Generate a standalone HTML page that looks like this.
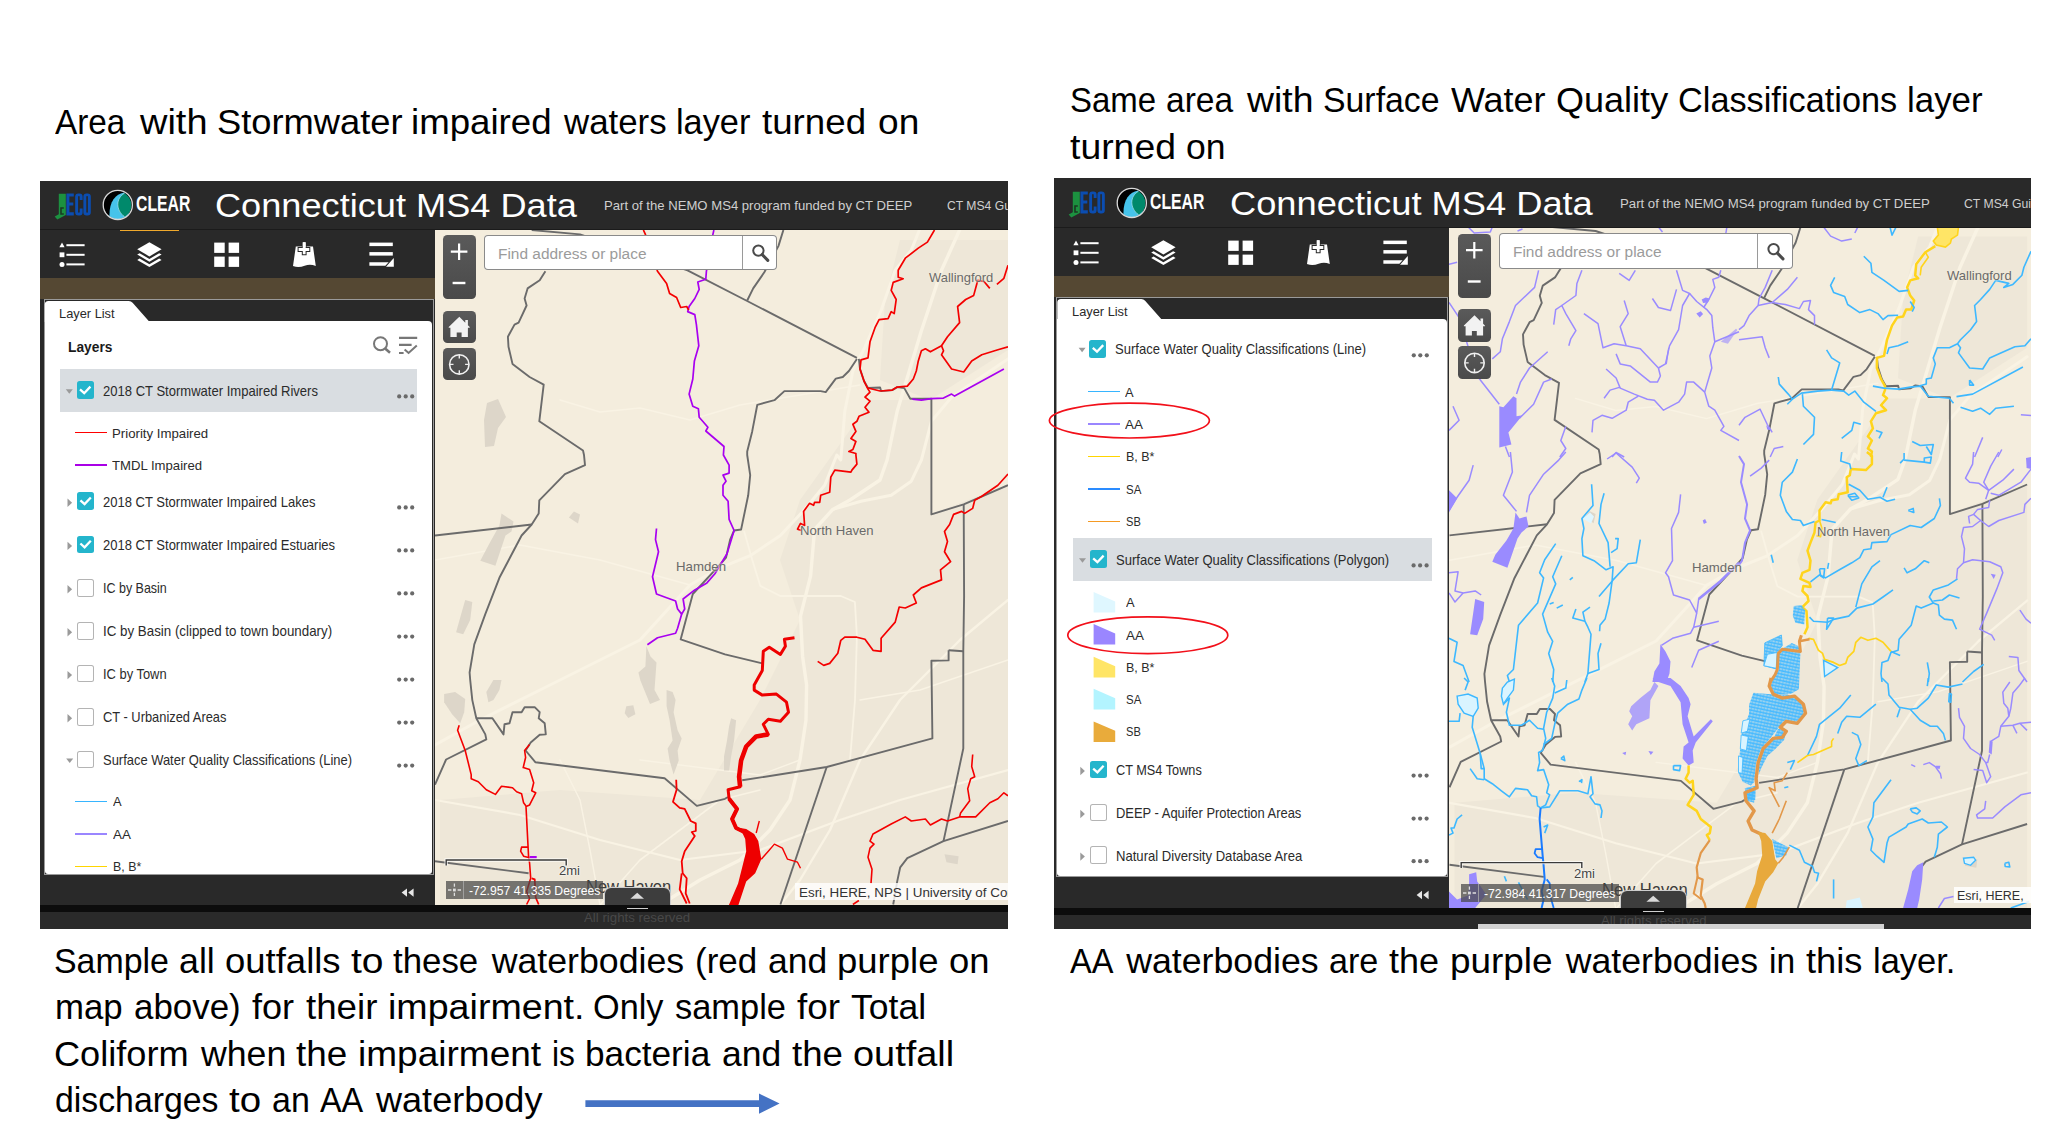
<!DOCTYPE html>
<html><head><meta charset="utf-8"><title>Connecticut MS4 Data</title>
<style>
html,body{margin:0;padding:0;background:#fff}
body{width:2048px;height:1142px;position:relative;overflow:hidden;font-family:'Liberation Sans',sans-serif}
.t{position:absolute;white-space:pre;line-height:1;transform-origin:0 50%}
.b{position:absolute}
.clip{position:absolute;overflow:hidden}
.in{position:absolute}
svg{position:absolute;left:0;top:0;overflow:visible}
</style></head><body>
<div class="t" style="left:54.7px;top:105.0px;font-size:35.7px;color:#000;transform:scaleX(0.9333);">Area</div><div class="t" style="left:139.6px;top:105.0px;font-size:35.7px;color:#000;transform:scaleX(1.0636);">with</div><div class="t" style="left:216.6px;top:105.0px;font-size:35.7px;color:#000;transform:scaleX(1.0173);">Stormwater</div><div class="t" style="left:411.4px;top:105.0px;font-size:35.7px;color:#000;transform:scaleX(1.0270);">impaired</div><div class="t" style="left:563.5px;top:105.0px;font-size:35.7px;color:#000;transform:scaleX(0.9766);">waters</div><div class="t" style="left:676.3px;top:105.0px;font-size:35.7px;color:#000;transform:scaleX(0.9607);">layer</div><div class="t" style="left:762.3px;top:105.0px;font-size:35.7px;color:#000;transform:scaleX(1.0288);">turned</div><div class="t" style="left:877.8px;top:105.0px;font-size:35.7px;color:#000;transform:scaleX(1.0394);">on</div><div class="t" style="left:1069.6px;top:83.0px;font-size:35.7px;color:#000;transform:scaleX(0.9236);">Same</div><div class="t" style="left:1165.7px;top:83.0px;font-size:35.7px;color:#000;transform:scaleX(0.9408);">area</div><div class="t" style="left:1247.3px;top:83.0px;font-size:35.7px;color:#000;transform:scaleX(1.0493);">with</div><div class="t" style="left:1322.8px;top:83.0px;font-size:35.7px;color:#000;transform:scaleX(0.9477);">Surface</div><div class="t" style="left:1450.6px;top:83.0px;font-size:35.7px;color:#000;transform:scaleX(1.0078);">Water</div><div class="t" style="left:1556.0px;top:83.0px;font-size:35.7px;color:#000;transform:scaleX(1.0097);">Quality</div><div class="t" style="left:1678.3px;top:83.0px;font-size:35.7px;color:#000;transform:scaleX(0.9609);">Classifications</div><div class="t" style="left:1907.0px;top:83.0px;font-size:35.7px;color:#000;transform:scaleX(0.9779);">layer</div><div class="t" style="left:1069.8px;top:130.0px;font-size:35.7px;color:#000;transform:scaleX(1.0469);">turned</div><div class="t" style="left:1186.4px;top:130.0px;font-size:35.7px;color:#000;transform:scaleX(0.9960);">on</div><div class="t" style="left:54.2px;top:944.0px;font-size:35.7px;color:#000;transform:scaleX(0.9500);">Sample</div><div class="t" style="left:179.1px;top:944.0px;font-size:35.7px;color:#000;">all</div><div class="t" style="left:224.8px;top:944.0px;font-size:35.7px;color:#000;transform:scaleX(1.0222);">outfalls</div><div class="t" style="left:351.2px;top:944.0px;font-size:35.7px;color:#000;transform:scaleX(1.0929);">to</div><div class="t" style="left:393.4px;top:944.0px;font-size:35.7px;color:#000;transform:scaleX(0.9751);">these</div><div class="t" style="left:491.7px;top:944.0px;font-size:35.7px;color:#000;">waterbodies</div><div class="t" style="left:695.1px;top:944.0px;font-size:35.7px;color:#000;transform:scaleX(0.9796);">(red</div><div class="t" style="left:767.9px;top:944.0px;font-size:35.7px;color:#000;transform:scaleX(0.9948);">and</div><div class="t" style="left:836.5px;top:944.0px;font-size:35.7px;color:#000;transform:scaleX(1.0223);">purple</div><div class="t" style="left:948.7px;top:944.0px;font-size:35.7px;color:#000;transform:scaleX(1.0204);">on</div><div class="t" style="left:54.7px;top:990.0px;font-size:35.7px;color:#000;transform:scaleX(0.9748);">map</div><div class="t" style="left:133.8px;top:990.0px;font-size:35.7px;color:#000;transform:scaleX(0.9780);">above)</div><div class="t" style="left:251.6px;top:990.0px;font-size:35.7px;color:#000;transform:scaleX(1.0105);">for</div><div class="t" style="left:305.5px;top:990.0px;font-size:35.7px;color:#000;transform:scaleX(1.0282);">their</div><div class="t" style="left:387.7px;top:990.0px;font-size:35.7px;color:#000;transform:scaleX(1.0540);">impairment.</div><div class="t" style="left:592.7px;top:990.0px;font-size:35.7px;color:#000;transform:scaleX(0.9595);">Only</div><div class="t" style="left:674.5px;top:990.0px;font-size:35.7px;color:#000;transform:scaleX(0.9647);">sample</div><div class="t" style="left:797.4px;top:990.0px;font-size:35.7px;color:#000;transform:scaleX(1.0320);">for</div><div class="t" style="left:851.2px;top:990.0px;font-size:35.7px;color:#000;transform:scaleX(0.9952);">Total</div><div class="t" style="left:54.2px;top:1037.0px;font-size:35.7px;color:#000;transform:scaleX(1.0136);">Coliform</div><div class="t" style="left:201.0px;top:1037.0px;font-size:35.7px;color:#000;">when</div><div class="t" style="left:296.1px;top:1037.0px;font-size:35.7px;color:#000;transform:scaleX(1.0336);">the</div><div class="t" style="left:357.7px;top:1037.0px;font-size:35.7px;color:#000;transform:scaleX(1.0373);">impairment</div><div class="t" style="left:552.3px;top:1037.0px;font-size:35.7px;color:#000;transform:scaleX(0.8897);">is</div><div class="t" style="left:585.1px;top:1037.0px;font-size:35.7px;color:#000;transform:scaleX(0.9863);">bacteria</div><div class="t" style="left:722.2px;top:1037.0px;font-size:35.7px;color:#000;transform:scaleX(0.9948);">and</div><div class="t" style="left:791.8px;top:1037.0px;font-size:35.7px;color:#000;transform:scaleX(1.0254);">the</div><div class="t" style="left:852.6px;top:1037.0px;font-size:35.7px;color:#000;transform:scaleX(1.0628);">outfall</div><div class="t" style="left:55.0px;top:1083.0px;font-size:35.7px;color:#000;transform:scaleX(0.9471);">discharges</div><div class="t" style="left:229.3px;top:1083.0px;font-size:35.7px;color:#000;transform:scaleX(1.0790);">to</div><div class="t" style="left:271.7px;top:1083.0px;font-size:35.7px;color:#000;transform:scaleX(0.9526);">an</div><div class="t" style="left:319.5px;top:1083.0px;font-size:35.7px;color:#000;transform:scaleX(0.9079);">AA</div><div class="t" style="left:375.6px;top:1083.0px;font-size:35.7px;color:#000;transform:scaleX(1.0108);">waterbody</div><div class="t" style="left:1069.8px;top:944.0px;font-size:35.7px;color:#000;transform:scaleX(0.9121);">AA</div><div class="t" style="left:1126.2px;top:944.0px;font-size:35.7px;color:#000;">waterbodies</div><div class="t" style="left:1329.0px;top:944.0px;font-size:35.7px;color:#000;transform:scaleX(0.9571);">are</div><div class="t" style="left:1389.3px;top:944.0px;font-size:35.7px;color:#000;transform:scaleX(1.0090);">the</div><div class="t" style="left:1450.1px;top:944.0px;font-size:35.7px;color:#000;transform:scaleX(1.0337);">purple</div><div class="t" style="left:1565.7px;top:944.0px;font-size:35.7px;color:#000;">waterbodies</div><div class="t" style="left:1768.8px;top:944.0px;font-size:35.7px;color:#000;transform:scaleX(0.9403);">in</div><div class="t" style="left:1806.2px;top:944.0px;font-size:35.7px;color:#000;transform:scaleX(1.0166);">this</div><div class="t" style="left:1872.9px;top:944.0px;font-size:35.7px;color:#000;transform:scaleX(0.9654);">layer.</div><svg width="2048" height="1142"><path d="M585.4 1100.2H759V1093.4l20.6 10.2-20.6 10.2v-6.8H585.4z" fill="#4472c4"/></svg>
<div class="clip" style="left:40px;top:181px;width:968px;height:747.5px;background:#292929"><div class="in" style="left:-40px;top:-181px;width:2048px;height:1142px"><div class="b" style="left:435.0px;top:229.6px;width:2048.0px;height:675.4px;background:#f4eddd;"></div><div class="clip" style="left:435px;top:229.6px;width:573px;height:675.4px"><svg width="2048" height="1142" style="left:-435px;top:-229.6px"><path d="M870.0 400.0 931.0 400.0 931.0 514.0 1008.0 485.0 1008.0 905.0 440.0 905.0 440.0 800.0 560.0 790.0 700.0 800.0 760.0 700.0 800.0 620.0 780.0 560.0 800.0 500.0 850.0 430.0z" fill="#eee7d8" /><path d="M900.0 240.0 1008.0 240.0 1008.0 350.0 930.0 400.0 880.0 380.0 885.0 300.0z" fill="#eee7d8" /><path d="M919.4 230.0 911.3 250.1 895.2 270.3 881.1 310.5 865.0 346.8 852.9 371.0 844.8 411.2 840.8 460.0 836.8 455.0 824.7 485.2 804.6 509.4 780.4 535.5 750.2 555.7 720.0 567.8 690.0 585.0 640.0 640.0 600.0 660.0 540.0 690.0 480.0 720.0 435.0 745.0" fill="none" stroke="#f9f3e4" stroke-width="3" stroke-linejoin="round" stroke-linecap="round"/><path d="M959.6 230.0 941.5 270.3 921.4 330.7 909.3 371.0 897.2 411.2 887.1 460.0 880.0 480.0 850.0 500.0 832.8 509.4 814.6 529.5 810.6 575.8 800.5 616.1 802.6 656.4 806.6 685.0 806.0 720.0 800.0 760.0 790.0 800.0 770.0 830.0 740.0 860.0 700.0 880.0 660.0 905.0" fill="none" stroke="#f9f3e4" stroke-width="3.4" stroke-linejoin="round" stroke-linecap="round"/><path d="M1008.0 358.9 951.6 397.1 931.4 421.3 921.4 460.0 911.3 481.2 891.2 495.3 861.0 501.3 832.8 509.4" fill="none" stroke="#f9f3e4" stroke-width="3" stroke-linejoin="round" stroke-linecap="round"/><path d="M744.2 531.5 752.2 559.7 760.3 585.9 780.4 596.0 840.8 596.0 854.9 602.0 856.9 636.2 855.0 700.0 850.0 760.0" fill="none" stroke="#f9f3e4" stroke-width="1.8" stroke-linejoin="round" stroke-linecap="round"/><path d="M435.0 560.0 520.0 545.0 600.0 560.0 690.0 585.0" fill="none" stroke="#f9f3e4" stroke-width="1.6" stroke-linejoin="round" stroke-linecap="round"/><path d="M560.0 400.0 600.0 412.0 640.0 408.0 690.0 420.0 740.0 405.0 800.0 395.0 860.0 385.0" fill="none" stroke="#f9f3e4" stroke-width="1.4" stroke-linejoin="round" stroke-linecap="round"/><path d="M1008.0 600.0 960.0 640.0 900.0 700.0 860.0 760.0 830.0 830.0 800.0 880.0 780.0 905.0" fill="none" stroke="#f9f3e4" stroke-width="2.4" stroke-linejoin="round" stroke-linecap="round"/><path d="M435.0 800.0 520.0 815.0 600.0 840.0 680.0 860.0 760.0 850.0 840.0 820.0 900.0 800.0 1008.0 770.0" fill="none" stroke="#f9f3e4" stroke-width="2.2" stroke-linejoin="round" stroke-linecap="round"/><path d="M600.0 905.0 640.0 860.0 680.0 830.0 720.0 800.0 760.0 790.0" fill="none" stroke="#f9f3e4" stroke-width="1.6" stroke-linejoin="round" stroke-linecap="round"/><path d="M560.0 760.0 580.0 800.0 590.0 850.0 600.0 905.0" fill="none" stroke="#f9f3e4" stroke-width="1.4" stroke-linejoin="round" stroke-linecap="round"/><path d="M640.0 760.0 760.0 775.0 800.0 760.0" fill="none" stroke="#f9f3e4" stroke-width="1.4" stroke-linejoin="round" stroke-linecap="round"/><path d="M860.0 700.0 920.0 690.0 1008.0 660.0" fill="none" stroke="#f9f3e4" stroke-width="1.4" stroke-linejoin="round" stroke-linecap="round"/><path d="M501.5 513.4 513.5 521.5 511.5 531.5 505.5 535.5 495.4 565.8 480.3 560.7 489.4 543.6 499.4 525.5z" fill="#ddd6c9" /><path d="M568.9 517.4 573.9 511.4 580.0 514.4 578.0 523.5z" fill="#ddd6c9" /><path d="M465.2 600.0 472.3 602.0 470.2 620.1 463.2 634.2 456.1 632.2 461.2 614.1z" fill="#ddd6c9" /><path d="M646.4 646.3 650.5 656.4 656.5 662.4 654.5 690.0 660.0 700.0 650.0 704.0 640.4 680.6 638.4 672.5 645.4 666.4z" fill="#ddd6c9" /><path d="M444.1 694.1 455.1 692.1 465.2 699.1 464.2 712.2 460.2 723.3 452.1 714.2 444.1 702.2z" fill="#ddd6c9" /><path d="M488.4 702.2 486.3 692.1 493.4 680.0 501.5 680.0 499.4 690.1 493.4 700.1z" fill="#ddd6c9" /><path d="M626.3 706.2 633.3 705.2 635.4 714.2 628.3 717.9 624.7 713.2z" fill="#ddd6c9" /><path d="M666.6 690.1 672.6 692.1 675.6 700.1 673.6 712.2 677.6 730.3 681.7 738.4 677.6 750.5 678.7 760.5 673.6 774.6 669.6 760.5 667.6 748.5 672.6 740.4 669.6 720.3 666.6 706.2z" fill="#ddd6c9" /><path d="M731.1 718.3 736.1 720.3 734.1 740.4 731.1 756.5 729.1 770.6 724.0 770.6 724.0 756.5 727.0 740.4 729.1 726.3z" fill="#ddd6c9" /><path d="M944.5 854.2 958.6 856.2 957.6 864.2 946.5 862.2z" fill="#ddd6c9" /><path d="M487.0 403.0 498.0 399.0 506.0 417.0 498.0 428.0 494.0 446.0 485.0 447.0 484.0 420.0z" fill="#ddd6c9" /><path d="M545.4 271.3 539.7 280.3 527.6 288.4 524.6 298.5 526.6 305.5 518.6 322.6 514.5 324.6 507.9 336.7 508.5 346.8 512.5 363.9 529.6 377.0 543.7 384.6 539.3 421.3 583.0 450.5 584.0 455.0 585.0 465.1 564.9 474.1 539.3 500.3 538.7 513.4 531.7 524.5 521.6 535.5 499.4 577.8 485.3 614.1 474.3 644.3 469.6 672.5 470.2 680.0 472.3 700.1 476.3 718.3 485.3 734.4 486.3 739.4 446.1 759.5 435.0 784.7" fill="none" stroke="#6b6b6b" stroke-width="1.9" stroke-linejoin="round" /><path d="M435.0 535.5 531.7 524.5" fill="none" stroke="#6b6b6b" stroke-width="1.9" stroke-linejoin="round" /><path d="M531.7 230.0 580.0 234.4 687.5 270.3 746.2 300.5 856.9 357.9" fill="none" stroke="#6b6b6b" stroke-width="1.9" stroke-linejoin="round" /><path d="M783.4 230.0 778.4 246.1 764.3 272.3 753.2 288.4 747.2 300.5" fill="none" stroke="#6b6b6b" stroke-width="1.9" stroke-linejoin="round" /><path d="M856.9 358.9 848.9 371.0 842.8 377.0 835.8 378.6 825.7 392.1 820.7 391.1 784.4 391.1 774.4 400.2 757.3 404.8 752.2 431.4 747.2 451.5 747.2 455.0 750.2 475.1 748.2 495.3 741.1 529.5 734.1 530.5 730.1 539.6 726.0 557.7 720.0 564.7 692.8 594.0 680.7 639.3 725.0 654.4 762.3 663.4" fill="none" stroke="#6b6b6b" stroke-width="1.9" stroke-linejoin="round" /><path d="M858.9 358.9 860.0 369.0 864.0 381.0 868.0 388.0 880.1 387.5 881.1 391.1 892.2 390.1 897.2 387.1 904.3 388.1 910.3 398.7 931.4 398.7 931.4 514.4 963.7 504.3 1008.0 485.2" fill="none" stroke="#6b6b6b" stroke-width="1.9" stroke-linejoin="round" /><path d="M963.7 504.3 964.1 596.0 963.3 651.3 963.3 748.5 943.5 841.1" fill="none" stroke="#6b6b6b" stroke-width="1.9" stroke-linejoin="round" /><path d="M948.6 650.3 963.3 651.3" fill="none" stroke="#6b6b6b" stroke-width="1.9" stroke-linejoin="round" /><path d="M948.6 650.3 948.6 660.4 931.4 660.8 932.4 738.4 826.7 767.0 742.2 780.3" fill="none" stroke="#6b6b6b" stroke-width="1.9" stroke-linejoin="round" /><path d="M826.7 767.0 780.4 904.5" fill="none" stroke="#6b6b6b" stroke-width="1.9" stroke-linejoin="round" /><path d="M476.3 718.3 492.4 718.3 503.5 734.4 504.5 724.3 509.5 723.3 512.5 712.2 521.6 712.2 524.6 707.2 534.7 707.2 539.7 712.2 538.7 718.3 544.7 723.3 545.8 734.4 539.7 734.8 530.7 742.4 525.6 750.5 535.3 762.2 664.6 778.3 696.8 805.9 725.0 798.8 728.0 797.0" fill="none" stroke="#6b6b6b" stroke-width="1.9" stroke-linejoin="round" /><path d="M435.0 861.2 528.6 873.3" fill="none" stroke="#6b6b6b" stroke-width="1.9" stroke-linejoin="round" /><path d="M1008.0 821.0 943.5 841.1 907.3 858.2 900.2 867.3 897.2 881.4 893.2 904.5" fill="none" stroke="#6b6b6b" stroke-width="1.9" stroke-linejoin="round" /><path d="M713.9 230.0 712.9 234.4 706.4 271.3 705.8 279.3 697.8 282.0 699.2 289.4 694.8 298.5 689.1 306.5 687.7 311.6 694.8 314.6 696.4 324.6 698.8 345.8 694.4 360.9 692.8 379.0 689.1 394.1 692.8 406.2 698.4 408.8 699.2 417.3 707.9 427.3 705.8 431.0 724.0 446.5 723.4 455.0 729.1 465.1 729.1 473.1 723.0 475.1 726.0 481.2 723.0 485.2 723.0 495.3 728.1 501.3 729.1 519.4 734.1 530.5 727.0 553.7 714.9 573.8 706.9 582.9 694.8 589.9 683.1 599.0 684.7 609.0 681.7 614.1 677.6 609.0 675.6 601.0 664.6 597.0 656.5 594.0 652.5 576.8 658.5 551.7 655.5 539.6 656.5 528.5" fill="none" stroke="#a800f0" stroke-width="1.7" stroke-linejoin="round" /><path d="M681.7 614.1 677.6 628.2 675.6 633.2 657.5 637.8 647.4 644.7" fill="none" stroke="#a800f0" stroke-width="1.7" stroke-linejoin="round" /><path d="M1003.9 368.9 954.6 396.1 951.6 394.1 943.5 398.1 931.4 398.7 921.4 400.2 912.3 399.1" fill="none" stroke="#a800f0" stroke-width="1.7" stroke-linejoin="round" /><path d="M529.6 857.2 536.7 857.2" fill="none" stroke="#a800f0" stroke-width="2.4" stroke-linejoin="round" /><path d="M643.4 230.0 645.4 234.4 657.5 271.3 666.6 283.4 669.6 293.4 676.6 297.5 680.7 307.5 686.7 306.5 688.7 310.1" fill="none" stroke="#f40000" stroke-width="1.7" stroke-linejoin="round" /><path d="M934.5 230.0 927.4 242.1 918.3 248.1 905.3 258.2 898.2 270.3 898.2 277.3 903.2 278.7 893.2 282.4 891.2 290.4 896.2 299.5 894.2 313.6 891.2 311.6 888.1 318.6 879.1 319.6 875.0 327.7 870.0 341.8 868.0 357.9 861.0 359.9 860.0 369.0 864.0 381.0 868.0 389.1 870.0 392.1 865.0 397.1 870.0 401.2 865.0 407.2 869.0 412.2 859.0 416.3 856.9 421.3 852.9 424.3 855.9 431.4 850.9 438.4 855.9 441.4 852.9 449.5 848.9 451.5 855.9 453.5 855.9 455.0 856.9 464.1 851.9 470.1 850.9 472.1 834.8 470.1 830.8 477.2 829.7 492.3 820.7 495.3 819.7 502.3 814.6 502.3 813.6 505.3 809.6 503.3 803.6 511.4 804.6 525.5 800.5 523.5 797.5 529.1 801.6 530.5" fill="none" stroke="#f40000" stroke-width="1.7" stroke-linejoin="round" /><path d="M868.0 388.0 880.1 391.0 892.2 390.1 897.2 387.1 907.3 386.1 913.3 379.0 916.3 371.0 918.3 360.9 921.4 350.8 925.4 348.8 930.4 351.8 941.5 345.8 947.5 336.7 959.6 322.6 957.6 306.5 965.7 299.5 973.7 295.4 977.8 280.3 983.8 281.3 989.8 288.4" fill="none" stroke="#f40000" stroke-width="1.7" stroke-linejoin="round" /><path d="M941.5 345.8 943.5 350.8 941.5 354.8 951.6 369.0 963.7 372.0 971.7 360.9 981.8 354.8 997.9 349.8 1008.0 346.8" fill="none" stroke="#f40000" stroke-width="1.7" stroke-linejoin="round" /><path d="M996.9 284.4 1003.9 278.3 1008.0 265.2" fill="none" stroke="#f40000" stroke-width="1.7" stroke-linejoin="round" /><path d="M1008.0 474.1 997.9 485.2 981.8 496.3 974.7 500.3 972.7 508.4 964.7 513.4 961.6 511.4 953.6 514.4 949.6 524.5 944.5 531.5 947.5 541.6 944.5 551.7 950.6 561.7 940.5 569.8 941.5 579.9 921.4 587.9 913.3 595.0 916.3 603.0 905.3 608.0 899.2 607.0 895.2 622.1 881.1 638.2 881.1 651.3 873.0 650.3 865.0 639.3 856.9 637.2 844.8 637.2 840.8 640.3 837.8 653.3 829.7 663.4 823.7 665.4 817.7 661.4" fill="none" stroke="#f40000" stroke-width="1.7" stroke-linejoin="round" /><path d="M794.5 637.8 784.4 639.3 785.4 646.3 780.4 654.4 769.3 647.3 763.3 651.3 762.3 670.5 754.2 685.0 754.2 690.1 762.3 695.1 776.4 694.1 786.5 702.2 788.5 712.2 780.4 721.3 768.3 719.3 763.3 724.3 768.3 734.4 756.2 736.4 746.2 746.5 741.1 760.5 739.1 776.7 740.1 786.7 728.1 789.7 729.1 798.8 737.1 808.9 732.1 819.0 736.1 828.0 744.2 832.0" fill="none" stroke="#ee0000" stroke-width="3" stroke-linejoin="round" /><path d="M768.3 734.4 756.2 736.4 746.2 746.5 741.1 760.5 739.1 776.7 740.1 786.7" fill="none" stroke="#ee0000" stroke-width="4.6" stroke-linejoin="round" /><path d="M729.1 798.8 737.1 808.9 732.1 819.0 736.1 828.0 744.2 832.0" fill="none" stroke="#ee0000" stroke-width="4" stroke-linejoin="round" /><path d="M740.1 828.0 746.2 829.0 754.2 834.0 758.3 841.1 761.3 859.2 755.2 873.3 746.2 881.4 738.1 906.0 728.5 906.0 738.1 883.4 742.2 867.3 746.2 851.2 745.2 839.1z" fill="#ee0000" /><path d="M759.3 821.0 756.2 833.0" fill="none" stroke="#f40000" stroke-width="1.4" stroke-linejoin="round" /><path d="M761.3 859.2 768.3 851.2 774.4 844.1 782.4 848.1 787.5 859.2 797.5 862.2 800.5 868.3" fill="none" stroke="#f40000" stroke-width="1.4" stroke-linejoin="round" /><path d="M1008.0 795.8 1003.9 792.8 997.9 798.8 989.8 802.8 975.7 816.9 959.6 816.9 947.5 821.0 941.5 819.0 930.4 825.0 925.4 819.0 911.3 821.0 905.3 816.9 891.2 824.0 873.0 834.0 870.0 841.1 874.0 844.1 870.0 848.1 868.0 857.2 872.0 869.3 871.0 883.4" fill="none" stroke="#f40000" stroke-width="1.6" stroke-linejoin="round" /><path d="M972.7 754.5 971.7 766.6 974.7 776.7 970.7 778.7 967.7 788.7 969.7 800.8 960.6 812.9 959.6 816.9" fill="none" stroke="#f40000" stroke-width="1.6" stroke-linejoin="round" /><path d="M858.9 900.5 852.9 904.5" fill="none" stroke="#f40000" stroke-width="1.6" stroke-linejoin="round" /><path d="M459.2 725.3 457.6 730.3 465.2 750.5 471.2 774.6 471.2 778.7 478.3 781.7 486.3 789.7 495.4 794.4 501.5 786.3 512.5 787.7 516.6 791.8 521.6 793.8 523.6 802.8 526.0 805.9" fill="none" stroke="#f40000" stroke-width="1.6" stroke-linejoin="round" /><path d="M529.6 744.4 524.6 750.5 525.6 757.5 523.2 767.6 529.6 769.6 533.7 782.7 531.7 790.8 535.7 792.8 529.6 804.9 526.0 806.5 528.6 857.2 529.6 863.2 530.7 878.3 526.6 891.4 529.6 898.5 526.6 904.5" fill="none" stroke="#f40000" stroke-width="1.6" stroke-linejoin="round" /><path d="M528.0 847.1 521.6 847.1 520.6 851.2 523.6 856.2 528.6 857.6" fill="none" stroke="#f40000" stroke-width="1.6" stroke-linejoin="round" /><path d="M531.7 878.3 534.7 879.4 535.7 897.5 538.7 904.5" fill="none" stroke="#f40000" stroke-width="1.8" stroke-linejoin="round" /><path d="M676.2 779.7 676.6 789.7 673.0 801.8 679.7 807.9 684.7 808.9 690.7 821.0 695.8 823.4 695.8 831.0 691.7 832.0 694.8 836.1 684.7 851.2 681.7 861.2 682.7 873.3 686.7 878.3 685.7 893.4 689.7 903.5" fill="none" stroke="#f40000" stroke-width="1.8" stroke-linejoin="round" /><path d="M681.7 873.3 679.7 889.4 686.7 903.5" fill="none" stroke="#f40000" stroke-width="1.8" stroke-linejoin="round" /></svg></div><div class="t" style="left:929.3px;top:271.0px;font-size:13.4px;color:#6a6a6a;transform:scaleX(0.9672);text-shadow:0 0 2px #f4eddd,0 0 2px #f4eddd">Wallingford</div><div class="t" style="left:800.0px;top:524.0px;font-size:13.4px;color:#6a6a6a;transform:scaleX(0.9791);text-shadow:0 0 2px #f4eddd,0 0 2px #f4eddd">North Haven</div><div class="t" style="left:676.3px;top:560.0px;font-size:13.4px;color:#6a6a6a;transform:scaleX(0.9879);text-shadow:0 0 2px #f4eddd,0 0 2px #f4eddd">Hamden</div><div class="b" style="left:40.0px;top:178.0px;width:2048.0px;height:51.6px;background:#292929;"></div><div class="b" style="left:40.0px;top:229.0px;width:2048.0px;height:1.2px;background:#1b1b1b;"></div><svg width="2048" height="1142"><g transform="translate(0,0)"><path d="M58.8 193.8h7v21.2l-8.5 4.4-2.6-2.9 4.1-2.3z" fill="#1c9140"/><path d="M60.2 207.2h3.6v1.6h-2v4.4h2v1.6h-3.6z" fill="#1a3a22"/><path d="M66.4 193.4h7.4v3.1h-4.4v6h3.9v3h-3.9v6.8h4.4v3.1h-7.4z" fill="#0b4db1"/><path d="M75.2 196.6a3.2 3.2 0 0 1 3.2-3.2h1a3.2 3.2 0 0 1 3.2 3.2v3.4h-2.9v-3.2a.8.8 0 0 0-1.6 0v15.2a.8.8 0 0 0 1.6 0v-3.6h2.9v3.8a3.2 3.2 0 0 1-3.2 3.2h-1a3.2 3.2 0 0 1-3.2-3.2z" fill="#0b4db1"/><path fill-rule="evenodd" d="M83.4 196.6a3.2 3.2 0 0 1 3.2-3.2h1a3.2 3.2 0 0 1 3.2 3.2v15.6a3.2 3.2 0 0 1-3.2 3.2h-1a3.2 3.2 0 0 1-3.2-3.2zM86.3 196.8v15.2a.8.8 0 0 0 1.6 0v-15.2a.8.8 0 0 0-1.6 0z" fill="#0b4db1"/><circle cx="117.8" cy="204.9" r="14.2" fill="#000"/><clipPath id="ccL"><circle cx="117.8" cy="204.9" r="14.2"/></clipPath><g clip-path="url(#ccL)"><path d="M124 192.5c-9 2-15.5 9-14.5 27l16 2 4-10z" fill="#46c3ea"/><path d="M124.6 193.2c-9 5-9 17 0 23.6 9-5 9-18 0-23.6z" fill="#00896b"/><path d="M124.6 193.2c-9 5-9 17 0 23.6" fill="none" stroke="#bfe9f5" stroke-width=".6"/></g><circle cx="117.8" cy="204.9" r="14.6" fill="none" stroke="#d8d8d8" stroke-width="1.3"/><path d="M62 242.6l2.6 4.6h-5.2z" fill="#fff"/><rect x="59.6" y="252.4" width="4.8" height="4.8" fill="#fff"/><circle cx="62" cy="264.4" r="2.5" fill="#fff"/><rect x="66.4" y="244.2" width="18.2" height="2" fill="#fff"/><rect x="66.4" y="253.8" width="18.2" height="2" fill="#fff"/><rect x="66.4" y="263.4" width="18.2" height="2" fill="#fff"/><path d="M149.4 242.2l12.2 7.1-12.2 7.1-12.2-7.1z" fill="#fff"/><path d="M139.6 253.2l9.8 5.7 9.8-5.7 2.4 1.4-12.2 7.2-12.2-7.2z" fill="#fff"/><path d="M139.6 258.5l9.8 5.7 9.8-5.7 2.4 1.4-12.2 7.2-12.2-7.2z" fill="#fff"/><rect x="214.2" y="242.6" width="10.5" height="10.3" fill="#fff"/><rect x="214.2" y="256.6" width="10.5" height="10.3" fill="#fff"/><rect x="228.6" y="242.6" width="10.5" height="10.3" fill="#fff"/><rect x="228.6" y="256.6" width="10.5" height="10.3" fill="#fff"/><path d="M295.8 246.6h17.2l2.8 19.4c-4-1.6-7.4-1.6-11.2-.2s-7.6 1.8-11.6.2z" fill="#fff"/><path d="M302.8 242.3h2.8v5.8h3.7v2.9h-3.7v3.2h-2.8v-3.2h-4.2v-2.9h4.2z" fill="#fff" stroke="#292929" stroke-width="2" paint-order="stroke"/><rect x="302.8" y="242.3" width="2.8" height="5" fill="#fff"/><rect x="369.4" y="242.6" width="23.4" height="3.5" fill="#fff"/><rect x="369.4" y="252.1" width="23.4" height="3.5" fill="#fff"/><path d="M369.4 262.3h19.2l-3.2 3.5h-16z" fill="#fff"/><path d="M393.8 257.9v8.8h-7.8z" fill="#fff"/></g></svg><div class="t" style="left:136.4px;top:193.0px;font-size:21.8px;color:#fff;font-weight:700;transform:scaleX(0.7233);">CLEAR</div><div class="t" style="left:215.0px;top:189.0px;font-size:33.6px;color:#fff;transform:scaleX(1.0770);">Connecticut MS4 Data</div><div class="t" style="left:603.5px;top:199.0px;font-size:13.6px;color:#cfcfcf;transform:scaleX(0.9653);">Part of the NEMO MS4 program funded by CT DEEP</div><div class="t" style="left:947.0px;top:199.0px;font-size:13.6px;color:#cfcfcf;transform:scaleX(0.8943);">CT MS4 Guidance</div><div class="b" style="left:120.0px;top:229.8px;width:58.7px;height:1.6px;background:#f0a92c;"></div><div class="b" style="left:40.0px;top:277.7px;width:395.0px;height:21.3px;background:#554833;"></div><div class="b" style="left:43.5px;top:298.8px;width:390.0px;height:576.4px;background:#292929;box-shadow:0 0 0 1px #9a9a9a inset"></div><div class="b" style="left:44.8px;top:321.0px;width:387.6px;height:553.0px;background:#fff;border-radius:0 4px 3px 3px"></div><svg width="2048" height="1142"><g transform="translate(0,0)"><path d="M44.8 322v-17.4a3.6 3.6 0 0 1 3.6-3.6h80.4a5 5 0 0 1 3.8 1.8l17 19.2z" fill="#fff"/></g></svg><div class="t" style="left:58.5px;top:308.0px;font-size:12.6px;color:#292929;transform:scaleX(1.0183);">Layer List</div><svg width="2048" height="1142"><g transform="translate(0,0)"><path d="M401.6 892.6l5.4-4.2v8.4zM408.2 892.6l5.4-4.2v8.4z" fill="#e6e6e6"/></g></svg><div class="t" style="left:68.3px;top:339.0px;font-size:15.2px;color:#1a1a1a;font-weight:700;transform:scaleX(0.9066);">Layers</div><svg width="2048" height="1142"><circle cx="380.5" cy="343.7" r="6.5" fill="none" stroke="#777" stroke-width="2"/><path d="M385.4 348.8l4.6 3.9" stroke="#777" stroke-width="2.6"/><path d="M399 337.9h18.2M399 344.8h12.6M399 353h4.6" fill="none" stroke="#777" stroke-width="2.2"/><path d="M404.6 349.4l4 3.6 8.2-7.6" fill="none" stroke="#777" stroke-width="2"/></svg><div class="b" style="left:60.0px;top:369.2px;width:357.4px;height:42.4px;background:#d9dde1;"></div><svg width="2048" height="1142"><path d="M65.8 389.2h7l-3.5 4.6z" fill="#9a9a9a"/></svg><div class="b" style="left:76.6px;top:381.4px;width:17.0px;height:17.8px;background:#24b5cc;border-radius:2.5px"></div><svg width="2048" height="1142"><path d="M80.0 389.40000000000003l4.2 3.8 6.2-6.6" fill="none" stroke="#fff" stroke-width="2.3"/></svg><div class="t" style="left:102.6px;top:385.0px;font-size:13.9px;color:#2b2b2b;transform:scaleX(0.9386);">2018 CT Stormwater Impaired Rivers</div><svg width="2048" height="1142"><circle cx="399.2" cy="396.4" r="2.1" fill="#6a6a6a"/><circle cx="405.7" cy="396.4" r="2.1" fill="#6a6a6a"/><circle cx="412.2" cy="396.4" r="2.1" fill="#6a6a6a"/></svg><div class="b" style="left:74.8px;top:431.9px;width:32.5px;height:1.6px;background:#ff0000;"></div><div class="t" style="left:112.4px;top:427.0px;font-size:13.6px;color:#2b2b2b;transform:scaleX(0.9721);">Priority Impaired</div><div class="b" style="left:74.8px;top:464.2px;width:32.5px;height:1.6px;background:#a900e6;"></div><div class="t" style="left:112.4px;top:459.0px;font-size:13.6px;color:#2b2b2b;transform:scaleX(0.9672);">TMDL Impaired</div><svg width="2048" height="1142"><path d="M67.5 498.5l4.6 4.2-4.6 4.2z" fill="#9a9a9a"/></svg><div class="b" style="left:77.0px;top:492.3px;width:17.0px;height:17.8px;background:#24b5cc;border-radius:2.5px"></div><svg width="2048" height="1142"><path d="M80.4 500.3l4.2 3.8 6.2-6.6" fill="none" stroke="#fff" stroke-width="2.3"/></svg><div class="t" style="left:103.0px;top:496.0px;font-size:13.9px;color:#2b2b2b;transform:scaleX(0.9371);">2018 CT Stormwater Impaired Lakes</div><svg width="2048" height="1142"><circle cx="399.2" cy="507.4" r="2.1" fill="#6a6a6a"/><circle cx="405.7" cy="507.4" r="2.1" fill="#6a6a6a"/><circle cx="412.2" cy="507.4" r="2.1" fill="#6a6a6a"/></svg><svg width="2048" height="1142"><path d="M67.5 541.6999999999999l4.6 4.2-4.6 4.2z" fill="#9a9a9a"/></svg><div class="b" style="left:77.0px;top:535.5px;width:17.0px;height:17.8px;background:#24b5cc;border-radius:2.5px"></div><svg width="2048" height="1142"><path d="M80.4 543.5l4.2 3.8 6.2-6.6" fill="none" stroke="#fff" stroke-width="2.3"/></svg><div class="t" style="left:103.0px;top:539.0px;font-size:13.9px;color:#2b2b2b;transform:scaleX(0.9374);">2018 CT Stormwater Impaired Estuaries</div><svg width="2048" height="1142"><circle cx="399.2" cy="550.4" r="2.1" fill="#6a6a6a"/><circle cx="405.7" cy="550.4" r="2.1" fill="#6a6a6a"/><circle cx="412.2" cy="550.4" r="2.1" fill="#6a6a6a"/></svg><svg width="2048" height="1142"><path d="M67.5 585.0l4.6 4.2-4.6 4.2z" fill="#9a9a9a"/></svg><div class="b" style="left:77.0px;top:578.8px;width:17.0px;height:17.8px;background:#fff;border-radius:2.5px;box-shadow:0 0 0 1px #b4b4b4 inset"></div><div class="t" style="left:103.0px;top:582.0px;font-size:13.9px;color:#2b2b2b;transform:scaleX(0.8983);">IC by Basin</div><svg width="2048" height="1142"><circle cx="399.2" cy="593.4" r="2.1" fill="#6a6a6a"/><circle cx="405.7" cy="593.4" r="2.1" fill="#6a6a6a"/><circle cx="412.2" cy="593.4" r="2.1" fill="#6a6a6a"/></svg><svg width="2048" height="1142"><path d="M67.5 628.0l4.6 4.2-4.6 4.2z" fill="#9a9a9a"/></svg><div class="b" style="left:77.0px;top:621.8px;width:17.0px;height:17.8px;background:#fff;border-radius:2.5px;box-shadow:0 0 0 1px #b4b4b4 inset"></div><div class="t" style="left:103.0px;top:625.0px;font-size:13.9px;color:#2b2b2b;transform:scaleX(0.9603);">IC by Basin (clipped to town boundary)</div><svg width="2048" height="1142"><circle cx="399.2" cy="636.6" r="2.1" fill="#6a6a6a"/><circle cx="405.7" cy="636.6" r="2.1" fill="#6a6a6a"/><circle cx="412.2" cy="636.6" r="2.1" fill="#6a6a6a"/></svg><svg width="2048" height="1142"><path d="M67.5 670.9l4.6 4.2-4.6 4.2z" fill="#9a9a9a"/></svg><div class="b" style="left:77.0px;top:664.7px;width:17.0px;height:17.8px;background:#fff;border-radius:2.5px;box-shadow:0 0 0 1px #b4b4b4 inset"></div><div class="t" style="left:103.0px;top:668.0px;font-size:13.9px;color:#2b2b2b;transform:scaleX(0.9286);">IC by Town</div><svg width="2048" height="1142"><circle cx="399.2" cy="679.6" r="2.1" fill="#6a6a6a"/><circle cx="405.7" cy="679.6" r="2.1" fill="#6a6a6a"/><circle cx="412.2" cy="679.6" r="2.1" fill="#6a6a6a"/></svg><svg width="2048" height="1142"><path d="M67.5 714.0l4.6 4.2-4.6 4.2z" fill="#9a9a9a"/></svg><div class="b" style="left:77.0px;top:707.8px;width:17.0px;height:17.8px;background:#fff;border-radius:2.5px;box-shadow:0 0 0 1px #b4b4b4 inset"></div><div class="t" style="left:103.0px;top:711.0px;font-size:13.9px;color:#2b2b2b;transform:scaleX(0.9261);">CT - Urbanized Areas</div><svg width="2048" height="1142"><circle cx="399.2" cy="722.6" r="2.1" fill="#6a6a6a"/><circle cx="405.7" cy="722.6" r="2.1" fill="#6a6a6a"/><circle cx="412.2" cy="722.6" r="2.1" fill="#6a6a6a"/></svg><svg width="2048" height="1142"><path d="M66.2 758.5h7l-3.5 4.6z" fill="#9a9a9a"/></svg><div class="b" style="left:77.0px;top:750.7px;width:17.0px;height:17.8px;background:#fff;border-radius:2.5px;box-shadow:0 0 0 1px #b4b4b4 inset"></div><div class="t" style="left:103.0px;top:754.0px;font-size:13.9px;color:#2b2b2b;transform:scaleX(0.9313);">Surface Water Quality Classifications (Line)</div><svg width="2048" height="1142"><circle cx="399.2" cy="765.6" r="2.1" fill="#6a6a6a"/><circle cx="405.7" cy="765.6" r="2.1" fill="#6a6a6a"/><circle cx="412.2" cy="765.6" r="2.1" fill="#6a6a6a"/></svg><div class="b" style="left:74.9px;top:800.6px;width:32.5px;height:1.6px;background:#37b5ff;"></div><div class="t" style="left:112.6px;top:795.0px;font-size:13.6px;color:#2b2b2b;transform:scaleX(0.9485);">A</div><div class="b" style="left:74.9px;top:833.2px;width:32.5px;height:1.6px;background:#9a86ff;"></div><div class="t" style="left:112.6px;top:828.0px;font-size:13.6px;color:#2b2b2b;transform:scaleX(0.9871);">AA</div><div class="b" style="left:74.9px;top:865.6px;width:32.5px;height:1.6px;background:#ffd500;"></div><div class="t" style="left:112.6px;top:860.0px;font-size:13.6px;color:#2b2b2b;transform:scaleX(0.9103);">B, B*</div><div class="b" style="left:442.5px;top:235.4px;width:33.0px;height:64.0px;background:linear-gradient(#5a5a5a,#4a4a4a);border-radius:4.5px"></div><div class="b" style="left:442.5px;top:310.9px;width:33.0px;height:32.6px;background:linear-gradient(#5a5a5a,#4a4a4a);border-radius:4.5px"></div><div class="b" style="left:442.5px;top:347.6px;width:33.0px;height:32.8px;background:linear-gradient(#5a5a5a,#4a4a4a);border-radius:4.5px"></div><div class="b" style="left:483.6px;top:234.8px;width:293.8px;height:35.5px;background:#fff;border-radius:4px;box-shadow:0 0 0 1px #8a8a8a inset"></div><div class="b" style="left:741.6px;top:235.8px;width:1.2px;height:33.5px;background:#9a9a9a;"></div><svg width="2048" height="1142"><g transform="translate(0,0)"><path d="M450.8 250.6h7.2v-7.2h2.2v7.2h7.2v2.2h-7.2v7.2h-2.2v-7.2h-7.2z" fill="#fff"/><rect x="452.6" y="281.8" width="12.8" height="2.4" fill="#fff"/><path d="M459.3 316.8l6 5.9v-2.8h2.6v5.4l1.8 1.8v.6h-1.8v9.4h-6.3v-4.6h-4.9v4.6h-6.3v-9.4h-1.7v-.6z" fill="#f2f2f2"/><circle cx="459.3" cy="364.4" r="9.7" fill="none" stroke="#f0f0f0" stroke-width="1.6"/><path d="M459.3 355v3.6M459.3 370.2v3.6M449.9 364.4h3.6M465.1 364.4h3.6" stroke="#f0f0f0" stroke-width="1.4"/><circle cx="758.4" cy="250.6" r="5.2" fill="none" stroke="#4a4a4a" stroke-width="2"/><path d="M762.2 254.6l5.6 5.8" stroke="#4a4a4a" stroke-width="3" stroke-linecap="round"/></g></svg><div class="t" style="left:497.9px;top:246.0px;font-size:15.4px;color:#9b9b9b;transform:scaleX(1.0034);">Find address or place</div><svg width="2048" height="1142"><path d="M446.2 865.4v-5.4h120v5.4" fill="none" stroke="#fff" stroke-width="3.4" opacity=".7"/><path d="M446.2 865.4v-5.4h120v5.4" fill="none" stroke="#3a3a3a" stroke-width="1.4"/></svg><div class="t" style="left:558.6px;top:865.0px;font-size:12.6px;color:#444;transform:scaleX(1.0349);text-shadow:0 0 2px #fff,0 0 2px #fff">2mi</div><div class="t" style="left:585.9px;top:878.0px;font-size:18.9px;color:#3c3c3c;transform:scaleX(0.8726);">New Haven</div><div class="b" style="left:445.6px;top:881.4px;width:157.8px;height:17.4px;background:rgba(70,70,70,.72);"></div><div class="b" style="left:462.6px;top:881.2px;width:1.0px;height:17.6px;background:rgba(170,170,170,.8);"></div><svg width="2048" height="1142"><path d="M454.4 883.6v3.2M454.4 892.8v3.2M448 890h3.4M457.6 890h3.4" stroke="#ddd" stroke-width="1.3"/><rect x="453" y="888.6" width="2.8" height="2.8" fill="#ddd"/></svg><div class="t" style="left:468.6px;top:884.0px;font-size:13.2px;color:#fff;transform:scaleX(0.9238);">-72.957 41.335 Degrees</div><div class="b" style="left:605.0px;top:888.0px;width:64.6px;height:20.0px;background:#3d3d3d;border-radius:7px 7px 0 0;border:1.2px solid rgba(240,240,240,.8);border-bottom:0;margin:-1px 0 0 -1px"></div><svg width="2048" height="1142"><path d="M630.4 898.8l6.8-6 6.8 6z" fill="#d9d9d9"/></svg><div class="b" style="left:794.6px;top:883.4px;width:300.0px;height:16.8px;background:rgba(255,255,255,.8);"></div><div class="t" style="left:799.0px;top:886.0px;font-size:13.6px;color:#333;transform:scaleX(0.9862);">Esri, HERE, NPS | University of Connecticut</div><div class="b" style="left:40.0px;top:904.7px;width:2048.0px;height:7.2px;background:#0c0c0c;"></div><div class="b" style="left:40.0px;top:911.9px;width:2048.0px;height:20.0px;background:#2a2a2a;"></div><div class="b" style="left:627.0px;top:908.2px;width:21.0px;height:1.0px;background:#cfcfcf;"></div><div class="t" style="left:584.4px;top:912.0px;font-size:12.6px;color:#484848;transform:scaleX(1.0537);">All rights reserved</div><div class="b" style="left:40.0px;top:875.2px;width:395.0px;height:29.5px;background:#292929;"></div><svg width="2048" height="1142"><path d="M401.6 892.6l5.4-4.2v8.4zM408.2 892.6l5.4-4.2v8.4z" fill="#e6e6e6"/></svg></div></div>
<div class="clip" style="left:1054px;top:178px;width:977px;height:750.5px;background:#292929"><div class="in" style="left:-1054px;top:-178px;width:2048px;height:1142px"><div class="b" style="left:1449.4px;top:227.6px;width:2048.0px;height:680.4px;background:#f4eddd;"></div><div class="clip" style="left:1449.4px;top:227px;width:582px;height:681px"><svg width="2048" height="1142" style="left:-1449.4px;top:-227px"><defs><pattern id="hat" width="3.2" height="3.2" patternUnits="userSpaceOnUse" patternTransform="rotate(12)"><rect width="3.2" height="3.2" fill="#46b9ff" opacity=".5"/><path d="M0 1h3.2" stroke="#46b9ff" stroke-width="1.5"/><path d="M1 0v3.2" stroke="#46b9ff" stroke-width=".6"/></pattern></defs><path d="M1888.0 398.4 1949.4 398.4 1949.4 513.7 2027.1 484.3 2027.1 909.0 1454.5 909.0 1454.5 802.8 1575.5 792.7 1716.6 802.8 1777.1 701.7 1817.4 620.8 1797.2 560.2 1817.4 499.5 1867.8 428.7z" fill="#eee7d8" /><path d="M1918.2 236.6 2027.1 236.6 2027.1 347.8 1948.4 398.4 1898.0 378.2 1903.1 297.3z" fill="#eee7d8" /><path d="M1937.8 226.5 1929.6 246.9 1913.4 267.3 1899.1 307.9 1882.9 344.6 1870.7 369.1 1862.6 409.7 1858.5 459.1 1854.5 454.0 1842.3 484.5 1822.0 509.0 1797.6 535.4 1767.2 555.8 1736.8 568.0 1706.5 585.4 1656.1 641.0 1615.8 661.3 1555.3 691.6 1494.8 721.9 1449.5 747.2" fill="none" stroke="#f9f3e4" stroke-width="3" stroke-linejoin="round" stroke-linecap="round"/><path d="M1978.3 226.5 1960.0 267.3 1939.8 328.3 1927.6 369.1 1915.4 409.7 1905.2 459.1 1898.0 479.3 1867.8 499.5 1850.5 509.0 1832.1 529.3 1828.1 576.1 1817.9 616.9 1820.0 657.6 1824.1 686.5 1823.4 721.9 1817.4 762.4 1807.3 802.8 1787.2 833.1 1756.9 863.5 1716.6 883.7 1676.3 909.0" fill="none" stroke="#f9f3e4" stroke-width="3.4" stroke-linejoin="round" stroke-linecap="round"/><path d="M2027.1 356.8 1970.2 395.5 1949.9 419.9 1939.8 459.1 1929.6 480.5 1909.3 494.7 1878.9 500.8 1850.5 509.0" fill="none" stroke="#f9f3e4" stroke-width="3" stroke-linejoin="round" stroke-linecap="round"/><path d="M1761.2 531.3 1769.2 559.9 1777.4 586.3 1797.6 596.6 1858.5 596.6 1872.7 602.6 1874.8 637.2 1872.8 701.7 1867.8 762.4" fill="none" stroke="#f9f3e4" stroke-width="1.8" stroke-linejoin="round" stroke-linecap="round"/><path d="M1449.5 560.2 1535.2 545.0 1615.8 560.2 1706.5 585.4" fill="none" stroke="#f9f3e4" stroke-width="1.6" stroke-linejoin="round" stroke-linecap="round"/><path d="M1575.5 398.4 1615.8 410.5 1656.1 406.5 1706.5 418.6 1756.9 403.5 1817.4 393.3 1877.9 383.2" fill="none" stroke="#f9f3e4" stroke-width="1.4" stroke-linejoin="round" stroke-linecap="round"/><path d="M2027.1 600.6 1978.7 641.0 1918.2 701.7 1877.9 762.4 1847.6 833.1 1817.4 883.7 1797.2 909.0" fill="none" stroke="#f9f3e4" stroke-width="2.4" stroke-linejoin="round" stroke-linecap="round"/><path d="M1449.5 802.8 1535.2 818.0 1615.8 843.2 1696.4 863.5 1777.1 853.3 1857.7 823.0 1918.2 802.8 2027.1 772.5" fill="none" stroke="#f9f3e4" stroke-width="2.2" stroke-linejoin="round" stroke-linecap="round"/><path d="M1615.8 909.0 1656.1 863.5 1696.4 833.1 1736.8 802.8 1777.1 792.7" fill="none" stroke="#f9f3e4" stroke-width="1.6" stroke-linejoin="round" stroke-linecap="round"/><path d="M1575.5 762.4 1595.6 802.8 1605.7 853.3 1615.8 909.0" fill="none" stroke="#f9f3e4" stroke-width="1.4" stroke-linejoin="round" stroke-linecap="round"/><path d="M1656.1 762.4 1777.1 777.5 1817.4 762.4" fill="none" stroke="#f9f3e4" stroke-width="1.4" stroke-linejoin="round" stroke-linecap="round"/><path d="M1877.9 701.7 1938.4 691.6 2027.1 661.3" fill="none" stroke="#f9f3e4" stroke-width="1.4" stroke-linejoin="round" stroke-linecap="round"/><path d="M1584.5 517.1 1589.5 511.0 1595.6 514.1 1593.6 523.3z" fill="#ddd6c9" /><path d="M1963.1 857.6 1977.3 859.6 1976.3 867.7 1965.1 865.7z" fill="#ddd6c9" /><path d="M1560.8 268.3 1555.0 277.4 1542.8 285.6 1539.8 295.8 1541.8 302.9 1533.7 320.1 1529.6 322.2 1523.0 334.4 1523.6 344.6 1527.6 361.9 1544.8 375.1 1559.0 382.8 1554.6 419.9 1598.7 449.5 1599.7 454.0 1600.7 464.2 1580.4 473.3 1554.6 499.8 1554.0 513.0 1547.0 524.3 1536.8 535.4 1514.4 578.2 1500.2 614.9 1489.1 645.4 1484.4 673.9 1485.0 681.5 1487.1 701.8 1491.1 720.2 1500.2 736.5 1501.2 741.5 1460.7 761.9 1449.5 787.3" fill="none" stroke="#6b6b6b" stroke-width="1.9" stroke-linejoin="round" /><path d="M1449.5 535.4 1547.0 524.3" fill="none" stroke="#6b6b6b" stroke-width="1.9" stroke-linejoin="round" /><path d="M1547.0 226.5 1595.6 231.0 1704.0 267.3 1763.2 297.8 1874.8 355.8" fill="none" stroke="#6b6b6b" stroke-width="1.9" stroke-linejoin="round" /><path d="M1800.7 226.5 1795.6 242.8 1781.4 269.3 1770.2 285.6 1764.2 297.8" fill="none" stroke="#6b6b6b" stroke-width="1.9" stroke-linejoin="round" /><path d="M1874.8 356.8 1866.7 369.1 1860.5 375.1 1853.5 376.8 1843.3 390.4 1838.3 389.4 1801.7 389.4 1791.6 398.6 1774.4 403.3 1769.2 430.1 1764.2 450.5 1764.2 454.0 1767.2 474.3 1765.2 494.7 1758.0 529.3 1751.0 530.3 1746.9 539.5 1742.8 557.8 1736.8 564.9 1709.3 594.5 1697.1 640.3 1741.8 655.6 1779.4 664.7" fill="none" stroke="#6b6b6b" stroke-width="1.9" stroke-linejoin="round" /><path d="M1876.8 356.8 1877.9 367.1 1881.9 379.2 1885.9 386.3 1898.1 385.8 1899.1 389.4 1910.3 388.4 1915.4 385.4 1922.5 386.4 1928.6 397.1 1949.9 397.1 1949.9 514.1 1982.4 503.8 2027.1 484.5" fill="none" stroke="#6b6b6b" stroke-width="1.9" stroke-linejoin="round" /><path d="M1982.4 503.8 1982.8 596.6 1982.0 652.5 1982.0 750.7 1962.0 844.4" fill="none" stroke="#6b6b6b" stroke-width="1.9" stroke-linejoin="round" /><path d="M1967.2 651.5 1982.0 652.5" fill="none" stroke="#6b6b6b" stroke-width="1.9" stroke-linejoin="round" /><path d="M1967.2 651.5 1967.2 661.7 1949.9 662.1 1950.9 740.5 1844.3 769.4 1759.1 782.9" fill="none" stroke="#6b6b6b" stroke-width="1.9" stroke-linejoin="round" /><path d="M1844.3 769.4 1797.6 908.4" fill="none" stroke="#6b6b6b" stroke-width="1.9" stroke-linejoin="round" /><path d="M1491.1 720.2 1507.3 720.2 1518.5 736.5 1519.5 726.3 1524.6 725.3 1527.6 714.0 1536.8 714.0 1539.8 709.0 1550.0 709.0 1555.0 714.0 1554.0 720.2 1560.1 725.3 1561.2 736.5 1555.0 736.9 1545.9 744.6 1540.8 752.8 1550.6 764.6 1680.9 780.9 1713.4 808.8 1741.8 801.6 1744.8 799.8" fill="none" stroke="#6b6b6b" stroke-width="1.9" stroke-linejoin="round" /><path d="M1449.5 864.7 1543.8 876.9" fill="none" stroke="#6b6b6b" stroke-width="1.9" stroke-linejoin="round" /><path d="M2027.1 824.0 1962.0 844.4 1925.6 861.6 1918.4 870.8 1915.4 885.1 1911.3 908.4" fill="none" stroke="#6b6b6b" stroke-width="1.9" stroke-linejoin="round" /><path d="M1538.6 270.3 1534.6 287.4 1515.5 305.5 1509.4 321.6 1502.4 338.8 1500.3 351.8 1492.3 358.9" fill="none" stroke="#9a8bff" stroke-width="1.5" stroke-linejoin="round" /><path d="M1449.0 302.5 1459.1 317.6 1477.2 376.0 1499.3 404.2" fill="none" stroke="#9a8bff" stroke-width="1.5" stroke-linejoin="round" /><path d="M1547.7 351.8 1529.5 368.0 1520.5 382.1 1516.5 394.1" fill="none" stroke="#9a8bff" stroke-width="1.5" stroke-linejoin="round" /><path d="M1551.7 379.0 1543.6 382.1 1533.6 404.2 1519.5 418.3" fill="none" stroke="#9a8bff" stroke-width="1.5" stroke-linejoin="round" /><path d="M1505.4 446.5 1509.4 457.0" fill="none" stroke="#9a8bff" stroke-width="1.5" stroke-linejoin="round" /><path d="M1453.0 406.2 1459.1 420.3 1449.0 430.4" fill="none" stroke="#9a8bff" stroke-width="1.5" stroke-linejoin="round" /><path d="M1553.7 324.7 1555.7 309.6 1561.8 305.5 1565.8 313.6 1575.9 330.7 1570.8 338.8 1568.8 345.8" fill="none" stroke="#9a8bff" stroke-width="1.5" stroke-linejoin="round" /><path d="M1581.9 270.3 1576.9 283.4 1575.9 295.5 1561.8 305.5" fill="none" stroke="#9a8bff" stroke-width="1.5" stroke-linejoin="round" /><path d="M1583.9 313.6 1598.0 323.7 1603.0 347.8 1614.1 343.8 1626.2 345.8 1640.3 348.8 1658.4 368.0 1660.4 376.0 1657.4 382.1 1650.4 382.1 1630.2 365.9 1620.2 363.9 1616.1 353.9" fill="none" stroke="#9a8bff" stroke-width="1.5" stroke-linejoin="round" /><path d="M1624.2 300.5 1628.2 313.6 1620.2 326.7 1626.2 345.8" fill="none" stroke="#9a8bff" stroke-width="1.5" stroke-linejoin="round" /><path d="M1658.4 368.0 1665.5 363.9 1669.5 345.8 1678.6 329.7 1682.6 305.5 1689.6 293.5 1682.6 290.4 1676.5 270.3" fill="none" stroke="#9a8bff" stroke-width="1.5" stroke-linejoin="round" /><path d="M1652.4 298.5 1658.4 307.5 1670.5 310.6 1676.5 289.4" fill="none" stroke="#9a8bff" stroke-width="1.5" stroke-linejoin="round" /><path d="M1689.6 293.5 1696.7 301.5 1706.8 309.6 1711.8 315.6 1712.8 327.7 1714.8 341.8 1709.8 355.9 1711.8 368.0 1704.7 392.1 1708.8 406.2 1714.8 410.2 1723.9 426.4 1720.8 430.4 1739.0 440.5" fill="none" stroke="#9a8bff" stroke-width="1.5" stroke-linejoin="round" /><path d="M1704.7 392.1 1693.7 382.1 1686.6 382.1 1684.6 394.1 1678.6 402.2 1663.5 410.2 1654.4 400.2 1647.3 399.2 1634.3 394.1 1620.2 388.1 1616.1 378.0 1606.1 369.0" fill="none" stroke="#9a8bff" stroke-width="1.5" stroke-linejoin="round" /><path d="M1620.2 387.1 1610.1 390.1 1604.1 398.2" fill="none" stroke="#9a8bff" stroke-width="1.5" stroke-linejoin="round" /><path d="M1638.3 396.2 1628.2 402.2 1626.2 410.2 1612.1 418.3 1602.0 415.3 1593.0 420.3 1592.0 432.4" fill="none" stroke="#9a8bff" stroke-width="1.5" stroke-linejoin="round" /><path d="M1720.8 270.3 1718.8 277.3 1712.8 279.4 1714.8 287.4 1708.8 299.5 1703.7 307.5" fill="none" stroke="#9a8bff" stroke-width="1.5" stroke-linejoin="round" /><path d="M1714.8 341.8 1739.0 331.7" fill="none" stroke="#9a8bff" stroke-width="1.5" stroke-linejoin="round" /><path d="M1619.2 273.3 1629.2 280.4 1635.3 270.3" fill="none" stroke="#9a8bff" stroke-width="1.5" stroke-linejoin="round" /><path d="M1565.8 426.4 1560.8 440.5 1565.8 448.5 1559.8 457.0" fill="none" stroke="#9a8bff" stroke-width="1.5" stroke-linejoin="round" /><path d="M1612.1 457.0 1616.1 452.5 1624.2 457.0" fill="none" stroke="#9a8bff" stroke-width="1.5" stroke-linejoin="round" /><path d="M1468.1 227.0 1474.2 233.0 1490.3 232.0 1492.3 227.0" fill="none" stroke="#9a8bff" stroke-width="1.5" stroke-linejoin="round" /><path d="M1449.0 264.3 1457.1 262.2" fill="none" stroke="#9a8bff" stroke-width="1.5" stroke-linejoin="round" /><path d="M1517.5 231.0 1522.5 229.0" fill="none" stroke="#9a8bff" stroke-width="1.5" stroke-linejoin="round" /><path d="M1726.9 227.0 1725.9 233.0" fill="none" stroke="#9a8bff" stroke-width="1.5" stroke-linejoin="round" /><path d="M1658.4 227.0 1662.5 232.0" fill="none" stroke="#9a8bff" stroke-width="1.5" stroke-linejoin="round" /><path d="M1499.3 406.2 1503.4 407.2 1513.4 396.2 1516.5 398.2 1516.5 416.3 1522.5 415.3 1508.4 432.4 1511.4 444.5 1499.3 447.5z" fill="#9a8bff" /><path d="M1701.7 299.5 1705.7 297.5 1709.8 298.5 1707.8 302.5 1703.1 303.1z" fill="#9a8bff" /><path d="M1696.3 313.6 1700.7 311.2 1703.1 314.0 1699.7 317.6z" fill="#9a8bff" /><path d="M1665.5 363.9 1668.1 347.8 1669.3 347.8 1666.9 364.3z" fill="#9a8bff" /><path d="M1720.8 341.8 1736.0 328.7 1737.4 330.1 1727.9 343.8z" fill="#9a8bff" opacity=".6"/><path d="M1937.3 227.0 1958.5 227.0 1957.5 235.1 1951.4 239.1 1950.4 243.1 1945.4 247.1 1936.3 245.1 1933.3 241.1 1938.4 235.1z" fill="#ffe566" stroke="#ffd41c" stroke-width="1.6"/><path d="M1935.3 246.1 1925.3 252.2 1916.2 264.3 1915.2 275.3 1918.2 278.3 1910.2 280.4 1907.1 287.4 1910.2 295.5 1914.2 300.5 1911.2 309.6 1906.1 309.6 1903.1 316.6 1897.1 317.6 1892.0 325.7 1887.0 339.8 1884.0 355.9 1876.9 357.9 1876.9 368.0 1881.0 379.0 1885.0 386.1 1885.0 390.1 1883.0 395.1 1887.0 398.2 1881.0 405.2 1886.0 410.2 1875.9 413.3 1870.9 421.3 1872.9 428.4 1867.9 436.4 1871.9 440.5 1867.9 448.5 1871.9 451.5 1870.9 457.0" fill="none" stroke="#ffd41c" stroke-width="2.5" stroke-linejoin="round" /><path d="M1925.3 252.2 1928.3 257.2 1921.2 267.3 1920.2 275.3" fill="none" stroke="#ffd41c" stroke-width="1.6" stroke-linejoin="round" /><path d="M1863.8 256.2 1870.9 263.2 1871.9 272.3 1884.0 280.4 1899.1 291.4 1908.2 290.4" fill="none" stroke="#3db8ff" stroke-width="1.6" stroke-linejoin="round" /><path d="M1834.7 277.3 1830.6 285.4 1833.6 292.4 1844.7 296.5 1847.7 304.5 1859.8 312.6 1869.9 309.6 1877.9 313.6 1883.0 319.6 1888.0 315.6 1898.1 315.2" fill="none" stroke="#3db8ff" stroke-width="1.6" stroke-linejoin="round" /><path d="M1887.0 353.9 1889.0 347.8 1898.1 345.8 1908.2 341.8" fill="none" stroke="#3db8ff" stroke-width="1.6" stroke-linejoin="round" /><path d="M2031.0 251.2 2023.9 267.3 2021.9 275.3 2012.9 284.4 2003.8 287.4 2008.8 283.4 1995.7 280.4 1989.7 289.4 1980.6 299.5 1974.6 305.5 1976.6 321.6 1970.6 329.7 1960.5 339.8 1957.5 343.8 1949.4 347.8 1937.3 347.8 1933.3 357.9 1935.3 363.9 1931.3 378.0 1926.3 379.0 1926.3 384.1 1919.2 386.1" fill="none" stroke="#3db8ff" stroke-width="1.6" stroke-linejoin="round" /><path d="M1957.5 343.8 1960.5 347.8 1958.5 352.9 1969.6 368.0 1982.7 369.0 1989.7 357.9 2000.8 352.9 2014.9 346.8 2024.9 345.8 2031.0 338.8" fill="none" stroke="#3db8ff" stroke-width="1.6" stroke-linejoin="round" /><path d="M2022.9 367.0 1972.6 394.1 1956.5 396.6" fill="none" stroke="#3db8ff" stroke-width="1.6" stroke-linejoin="round" /><path d="M1960.5 407.2 1972.6 411.3 1980.6 408.2 1989.7 414.3 1995.7 408.2 2013.9 406.2" fill="none" stroke="#3db8ff" stroke-width="1.6" stroke-linejoin="round" /><path d="M1872.9 386.1 1884.0 388.1 1898.1 389.1 1910.2 387.1 1920.2 386.1 1928.3 396.2 1949.4 398.2 1953.5 403.2" fill="none" stroke="#3db8ff" stroke-width="1.6" stroke-linejoin="round" /><path d="M1778.3 377.0 1779.3 384.1 1788.3 394.1 1792.4 399.2 1801.4 393.1 1817.5 391.1 1831.6 390.1 1839.7 362.9 1831.6 357.9 1826.6 349.8" fill="none" stroke="#3db8ff" stroke-width="1.6" stroke-linejoin="round" /><path d="M1831.6 390.1 1843.7 391.1 1848.7 395.1 1854.8 391.1 1863.8 402.2 1875.9 411.3" fill="none" stroke="#3db8ff" stroke-width="1.6" stroke-linejoin="round" /><path d="M1802.4 394.1 1803.4 406.2 1814.5 417.3 1813.5 434.4 1803.4 444.5" fill="none" stroke="#3db8ff" stroke-width="1.6" stroke-linejoin="round" /><path d="M1792.4 399.2 1787.3 404.2" fill="none" stroke="#3db8ff" stroke-width="1.6" stroke-linejoin="round" /><path d="M1860.8 424.3 1853.8 422.3 1851.8 430.4 1841.7 438.4" fill="none" stroke="#3db8ff" stroke-width="1.6" stroke-linejoin="round" /><path d="M1912.2 441.5 1920.2 445.5 1933.3 444.5 1931.3 454.5 1926.3 446.5" fill="none" stroke="#3db8ff" stroke-width="1.6" stroke-linejoin="round" /><path d="M1890.0 227.0 1892.0 235.1 1896.1 227.0" fill="none" stroke="#3db8ff" stroke-width="1.6" stroke-linejoin="round" /><path d="M1910.2 301.5 1914.2 307.5 1912.2 311.6" fill="none" stroke="#3db8ff" stroke-width="1.6" stroke-linejoin="round" /><path d="M1969.6 380.0 1973.6 385.1 1969.6 385.1 1969.6 380.0" fill="none" stroke="#3db8ff" stroke-width="1.6" stroke-linejoin="round" /><path d="M1875.9 430.4 1882.0 432.4 1879.0 438.4" fill="none" stroke="#3db8ff" stroke-width="1.6" stroke-linejoin="round" /><path d="M1823.6 227.0 1830.6 236.1 1841.7 241.1 1851.8 239.1" fill="none" stroke="#9a8bff" stroke-width="1.5" stroke-linejoin="round" /><path d="M1772.2 270.3 1765.2 287.4 1759.1 298.5 1758.1 305.5 1749.1 315.6 1744.0 325.7 1739.0 329.7" fill="none" stroke="#9a8bff" stroke-width="1.5" stroke-linejoin="round" /><path d="M1797.4 277.3 1787.3 289.4 1772.2 302.5 1758.1 305.5" fill="none" stroke="#9a8bff" stroke-width="1.5" stroke-linejoin="round" /><path d="M1772.2 302.5 1785.3 304.5 1799.4 308.6 1803.4 301.5 1810.5 300.5 1808.5 309.6 1814.5 315.6 1814.5 324.7" fill="none" stroke="#9a8bff" stroke-width="1.5" stroke-linejoin="round" /><path d="M1739.0 339.8 1762.2 336.7 1765.2 347.8 1769.2 357.9" fill="none" stroke="#9a8bff" stroke-width="1.5" stroke-linejoin="round" /><path d="M1739.0 425.3 1745.0 417.3 1760.1 409.2 1767.2 424.3 1772.2 432.4" fill="none" stroke="#9a8bff" stroke-width="1.5" stroke-linejoin="round" /><path d="M1770.2 457.0 1774.2 448.5 1783.3 446.5" fill="none" stroke="#9a8bff" stroke-width="1.5" stroke-linejoin="round" /><path d="M1982.7 437.4 1974.6 457.0" fill="none" stroke="#9a8bff" stroke-width="1.5" stroke-linejoin="round" /><path d="M2001.8 449.5 1997.8 457.0" fill="none" stroke="#9a8bff" stroke-width="1.5" stroke-linejoin="round" /><path d="M2020.9 414.7 2031.0 415.5" fill="none" stroke="#9a8bff" stroke-width="1.5" stroke-linejoin="round" /><path d="M1857.8 227.0 1854.8 233.0" fill="none" stroke="#9a8bff" stroke-width="1.5" stroke-linejoin="round" /><path d="M1766.2 425.3 1772.2 430.4 1767.2 429.4z" fill="#9a8bff" /><path d="M1515.5 512.4 1519.5 518.5 1526.5 516.4 1528.5 526.5 1521.5 532.5 1517.5 538.6 1507.4 567.8 1492.3 561.7 1495.3 554.7 1506.4 540.6 1513.4 528.5z" fill="#9a8bff" /><path d="M1449.0 490.3 1457.1 498.3 1449.0 512.4z" fill="#9a8bff" /><path d="M1475.2 599.0 1484.2 602.0 1483.2 619.1 1477.2 635.2 1470.1 634.2 1473.2 613.1z" fill="#9a8bff" /><path d="M1660.4 644.3 1665.5 651.4 1670.5 661.4 1669.5 673.5 1666.5 682.0 1652.4 682.0 1654.4 671.5 1659.4 663.4z" fill="#9a8bff" /><path d="M1510.4 452.0 1512.4 472.1 1503.4 495.3 1516.5 511.4" fill="none" stroke="#9a8bff" stroke-width="1.5" stroke-linejoin="round" /><path d="M1565.8 452.0 1558.7 460.1 1543.6 474.2 1529.5 495.3 1526.5 512.4" fill="none" stroke="#9a8bff" stroke-width="1.5" stroke-linejoin="round" /><path d="M1473.2 465.1 1469.1 480.2 1457.1 497.3 1449.0 510.4" fill="none" stroke="#9a8bff" stroke-width="1.5" stroke-linejoin="round" /><path d="M1449.0 572.8 1458.1 571.8 1455.0 590.9 1463.1 593.0 1475.2 590.9 1481.2 595.0" fill="none" stroke="#9a8bff" stroke-width="1.5" stroke-linejoin="round" /><path d="M1449.0 593.0 1455.0 602.0 1463.1 593.0" fill="none" stroke="#9a8bff" stroke-width="1.5" stroke-linejoin="round" /><path d="M1607.1 459.0 1616.1 453.0 1632.2 467.1 1639.3 478.2 1636.3 483.2" fill="none" stroke="#9a8bff" stroke-width="1.5" stroke-linejoin="round" /><path d="M1680.6 494.3 1678.6 512.4 1671.5 528.5 1672.5 560.7 1665.5 572.8 1668.5 576.8 1673.5 595.0 1689.6 600.0 1696.7 613.1 1698.7 599.0 1720.8 580.9 1739.0 562.8" fill="none" stroke="#9a8bff" stroke-width="1.5" stroke-linejoin="round" /><path d="M1696.7 613.1 1693.7 627.2 1718.8 621.2" fill="none" stroke="#9a8bff" stroke-width="1.5" stroke-linejoin="round" /><path d="M1693.7 627.2 1690.6 633.2 1672.5 638.3 1661.4 645.3" fill="none" stroke="#9a8bff" stroke-width="1.5" stroke-linejoin="round" /><path d="M1718.8 641.3 1698.7 650.3 1691.7 667.5" fill="none" stroke="#9a8bff" stroke-width="1.5" stroke-linejoin="round" /><path d="M1698.7 599.0 1720.8 580.9 1739.0 562.8" fill="none" stroke="#9a8bff" stroke-width="2.6" stroke-linejoin="round" /><path d="M1702.7 520.5 1705.1 518.9 1706.8 522.5 1703.9 524.1z" fill="#9a8bff" /><path d="M1582.9 518.5 1590.0 512.4 1594.0 516.4 1591.0 523.5z" fill="#dff6ff" /><path d="M1555.7 543.6 1544.7 559.7 1539.6 572.8 1543.6 577.9 1537.6 603.0 1518.5 625.2 1513.4 669.5 1507.4 675.5 1509.4 682.0" fill="none" stroke="#3db8ff" stroke-width="1.6" stroke-linejoin="round" /><path d="M1561.8 555.7 1552.7 576.8 1555.7 583.9 1542.6 614.1 1547.7 632.2 1552.7 641.3 1548.7 653.4 1553.7 669.5 1552.7 682.0" fill="none" stroke="#3db8ff" stroke-width="1.6" stroke-linejoin="round" /><path d="M1591.6 484.2 1593.0 505.4 1581.9 518.5 1583.9 528.5 1581.9 538.6 1582.9 555.7 1594.0 560.7 1606.1 569.8 1613.1 566.8 1612.1 580.9 1609.1 603.0 1605.1 619.1 1600.0 625.2 1599.6 631.2" fill="none" stroke="#3db8ff" stroke-width="1.6" stroke-linejoin="round" /><path d="M1604.1 493.3 1601.0 504.4 1599.0 523.5 1608.1 542.6 1610.1 566.8" fill="none" stroke="#3db8ff" stroke-width="1.6" stroke-linejoin="round" /><path d="M1640.3 539.6 1636.3 562.8 1628.2 563.8 1613.1 579.9 1599.0 596.6" fill="none" stroke="#3db8ff" stroke-width="1.6" stroke-linejoin="round" /><path d="M1590.0 607.1 1582.9 612.1 1584.9 621.2 1587.9 627.2 1591.0 634.2 1587.9 673.5 1584.9 682.0" fill="none" stroke="#3db8ff" stroke-width="1.6" stroke-linejoin="round" /><path d="M1575.9 609.1 1572.8 618.1 1584.9 621.2" fill="none" stroke="#3db8ff" stroke-width="1.6" stroke-linejoin="round" /><path d="M1601.0 643.3 1598.0 653.4 1599.0 669.5 1587.9 673.5" fill="none" stroke="#3db8ff" stroke-width="1.6" stroke-linejoin="round" /><path d="M1449.0 638.3 1457.1 642.3 1454.0 661.4 1463.1 665.5 1469.1 682.0" fill="none" stroke="#3db8ff" stroke-width="1.6" stroke-linejoin="round" /><path d="M1615.1 538.6 1618.2 538.6 1617.1 548.7 1611.1 552.7" fill="none" stroke="#3db8ff" stroke-width="1.6" stroke-linejoin="round" /><path d="M1549.7 604.0 1553.7 602.6" fill="none" stroke="#3db8ff" stroke-width="1.6" stroke-linejoin="round" /><path d="M1556.7 608.1 1562.8 605.0" fill="none" stroke="#3db8ff" stroke-width="1.6" stroke-linejoin="round" /><path d="M1569.8 579.9 1572.8 577.3" fill="none" stroke="#3db8ff" stroke-width="1.6" stroke-linejoin="round" /><path d="M1866.9 452.0 1871.9 456.0 1871.9 464.1 1865.9 470.1 1850.8 469.1 1849.8 475.2 1846.7 477.2 1847.7 492.3 1838.7 494.3 1837.7 499.3 1831.6 500.3 1830.6 503.3 1825.6 502.3 1819.5 510.4 1819.5 520.5 1815.5 522.5 1814.5 532.5 1810.5 542.6 1807.5 550.7 1810.5 560.7 1809.5 569.8 1802.4 572.8 1800.4 578.9 1809.5 582.9 1810.5 586.9 1803.4 585.9 1802.4 590.9 1807.5 596.0 1808.5 601.0 1802.4 607.1 1806.5 611.1 1807.5 627.2 1804.4 634.2" fill="none" stroke="#ffd41c" stroke-width="2.5" stroke-linejoin="round" /><path d="M1819.5 520.5 1822.0 528.5 1820.6 536.6 1816.5 535.6" fill="none" stroke="#ffd41c" stroke-width="1.6" stroke-linejoin="round" /><path d="M1808.5 638.3 1813.5 639.3 1818.5 650.3 1822.6 653.4 1824.6 659.4 1833.6 662.4 1839.7 665.5 1845.7 663.4 1847.7 657.4 1853.8 651.4 1855.8 642.3 1860.8 637.3 1867.9 640.3 1875.9 638.3 1883.0 642.3 1891.0 651.4" fill="none" stroke="#ffd41c" stroke-width="1.7" stroke-linejoin="round" /><path d="M1764.8 642.9 1781.4 635.0 1782.3 645.5 1777.1 652.5 1777.1 669.2 1763.9 665.7z" fill="url(#hat)" stroke="#3db8ff" stroke-width=".8"/><path d="M1767.4 654.3 1777.1 652.5 1776.2 668.3 1763.9 665.7z" fill="#d9f4ff" stroke="#3db8ff" stroke-width=".8"/><path d="M1778.8 650.8 1791.9 642.9 1800.7 647.3 1799.8 666.5 1798.9 689.3 1791.1 693.7 1775.3 694.6 1770.1 685.8 1773.6 675.3 1778.8 670.1z" fill="url(#hat)" /><path d="M1753.4 692.8 1773.6 694.6 1787.6 694.6 1798.1 699.8 1804.2 708.6 1803.3 715.6 1795.4 722.6 1784.1 720.8 1777.1 729.6 1770.1 738.4 1761.3 748.9 1756.0 762.9 1754.3 782.1 1750.8 785.6 1742.9 782.1 1738.5 773.4 1739.4 755.9 1742.0 733.1 1749.0 713.8 1749.0 705.1z" fill="url(#hat)" /><path d="M1742.9 720.8 1749.9 719.1 1747.3 731.3 1741.2 733.1z" fill="#d9f4ff" stroke="#3db8ff" stroke-width=".8"/><path d="M1741.2 734.9 1748.2 736.6 1746.4 750.6 1740.3 748.9z" fill="#d9f4ff" stroke="#3db8ff" stroke-width=".8"/><path d="M1738.5 755.9 1742.9 757.6 1742.0 773.4 1738.5 772.5z" fill="#d9f4ff" stroke="#3db8ff" stroke-width=".8"/><path d="M1777.9 728.7 1786.7 730.5 1784.1 740.1 1775.3 748.9 1767.4 755.9 1761.3 768.1 1758.7 775.1 1759.5 757.6 1764.8 747.1 1773.6 738.4z" fill="url(#hat)" /><path d="M1793.7 606.1 1801.6 605.3 1805.1 610.5 1804.2 624.5 1795.4 622.8 1792.8 615.8z" fill="url(#hat)" /><path d="M1744.7 788.3 1756.0 785.6 1755.2 800.0 1747.3 800.0z" fill="url(#hat)" /><path d="M1823.6 660.4 1837.7 667.5 1824.6 676.5z" fill="#d9f4ff" stroke="#3db8ff" stroke-width="1.4"/><path d="M1801.4 635.2 1799.4 641.3 1800.4 651.4 1790.3 650.3 1782.3 649.3 1778.3 653.4 1777.3 669.5 1775.2 674.5 1770.2 682.0" fill="none" stroke="#e2984a" stroke-width="3" stroke-linejoin="round" /><path d="M1799.4 641.3 1809.5 639.3" fill="none" stroke="#e2984a" stroke-width="2.4" stroke-linejoin="round" /><path d="M1797.4 459.0 1792.4 472.1 1782.3 482.2 1780.3 495.3 1786.3 511.4 1792.4 519.5 1800.4 520.5 1803.4 525.5 1814.5 521.5" fill="none" stroke="#3db8ff" stroke-width="1.6" stroke-linejoin="round" /><path d="M1821.6 519.5 1835.7 522.5" fill="none" stroke="#3db8ff" stroke-width="1.6" stroke-linejoin="round" /><path d="M1841.7 452.0 1840.7 461.1 1849.8 464.1 1850.8 469.1" fill="none" stroke="#3db8ff" stroke-width="1.6" stroke-linejoin="round" /><path d="M1848.7 484.2 1859.8 490.3 1867.9 499.3 1880.0 497.3 1887.0 501.3 1895.1 499.3" fill="none" stroke="#3db8ff" stroke-width="1.6" stroke-linejoin="round" /><path d="M1883.0 497.3 1887.0 487.2" fill="none" stroke="#3db8ff" stroke-width="1.6" stroke-linejoin="round" /><path d="M1847.7 495.3 1854.8 493.3 1858.8 497.9 1851.8 500.3 1847.7 495.3" fill="none" stroke="#3db8ff" stroke-width="1.6" stroke-linejoin="round" /><path d="M1849.4 496.7 1857.4 496.7" fill="none" stroke="#3db8ff" stroke-width="1.6" stroke-linejoin="round" /><path d="M1904.1 453.0 1904.1 459.0 1900.1 463.1" fill="none" stroke="#3db8ff" stroke-width="1.6" stroke-linejoin="round" /><path d="M1904.1 460.1 1924.3 462.1 1924.3 458.0 1931.3 457.0 1930.3 463.1 1924.3 462.1" fill="none" stroke="#3db8ff" stroke-width="1.6" stroke-linejoin="round" /><path d="M1939.4 498.3 1940.4 505.4 1934.3 518.5 1921.2 527.5 1910.2 525.5 1891.0 534.6 1887.0 541.6 1871.9 542.6 1870.9 548.7 1863.8 549.7 1859.8 557.7 1851.8 562.8 1837.7 570.8 1825.6 577.9 1819.5 574.8 1810.5 581.9" fill="none" stroke="#3db8ff" stroke-width="1.6" stroke-linejoin="round" /><path d="M1819.5 568.8 1824.6 568.8 1823.6 577.9 1820.6 575.8 1819.5 568.8" fill="none" stroke="#3db8ff" stroke-width="1.6" stroke-linejoin="round" /><path d="M1880.0 560.7 1871.9 566.8 1861.8 583.9 1855.8 607.1" fill="none" stroke="#3db8ff" stroke-width="1.6" stroke-linejoin="round" /><path d="M1893.0 589.9 1883.0 597.0 1872.9 604.0 1856.8 608.1 1848.7 616.1 1834.7 619.1 1827.6 622.2 1813.5 621.2 1809.5 617.1" fill="none" stroke="#3db8ff" stroke-width="1.6" stroke-linejoin="round" /><path d="M1827.6 618.1 1833.6 618.1 1826.6 629.2 1827.6 618.1" fill="none" stroke="#3db8ff" stroke-width="1.6" stroke-linejoin="round" /><path d="M1904.1 567.8 1907.1 572.8 1915.2 568.8 1924.3 560.7 1929.3 562.8" fill="none" stroke="#3db8ff" stroke-width="1.6" stroke-linejoin="round" /><path d="M1957.5 578.9 1948.4 584.9 1933.3 589.9 1929.3 597.0 1933.3 603.0 1921.2 608.1 1916.2 606.0 1911.2 625.2 1899.1 639.3 1898.1 650.3 1891.0 652.4 1888.0 660.4 1882.0 662.4 1881.0 673.5 1882.0 682.0" fill="none" stroke="#3db8ff" stroke-width="1.6" stroke-linejoin="round" /><path d="M1933.3 603.0 1938.4 605.0 1939.4 615.1 1944.4 619.1 1952.5 620.1 1956.5 629.2" fill="none" stroke="#3db8ff" stroke-width="1.6" stroke-linejoin="round" /><path d="M1933.3 601.0 1942.4 600.0 1949.4 595.0 1959.5 598.0" fill="none" stroke="#3db8ff" stroke-width="1.6" stroke-linejoin="round" /><path d="M1983.7 664.4 1973.6 671.5 1962.5 682.0" fill="none" stroke="#3db8ff" stroke-width="1.6" stroke-linejoin="round" /><path d="M1927.3 662.4 1929.3 673.5 1928.3 682.0" fill="none" stroke="#3db8ff" stroke-width="1.6" stroke-linejoin="round" /><path d="M1771.2 554.7 1773.2 562.8" fill="none" stroke="#3db8ff" stroke-width="1.6" stroke-linejoin="round" /><path d="M1828.6 562.8 1827.6 568.8" fill="none" stroke="#3db8ff" stroke-width="1.6" stroke-linejoin="round" /><path d="M1908.2 510.4 1913.2 508.4 1913.8 512.4 1908.2 510.4" fill="none" stroke="#3db8ff" stroke-width="1.6" stroke-linejoin="round" /><path d="M1891.0 651.4 1900.1 655.4" fill="none" stroke="#3db8ff" stroke-width="1.6" stroke-linejoin="round" /><path d="M1998.8 452.0 1990.7 466.1 1983.7 482.2 1988.7 490.3 1985.7 499.3" fill="none" stroke="#9a8bff" stroke-width="1.5" stroke-linejoin="round" /><path d="M1973.6 452.0 1972.6 464.1 1965.5 478.2 1969.6 482.2 1978.6 483.2 1988.7 490.3" fill="none" stroke="#9a8bff" stroke-width="1.5" stroke-linejoin="round" /><path d="M2013.9 469.1 2002.8 480.2 1988.7 490.3" fill="none" stroke="#9a8bff" stroke-width="1.5" stroke-linejoin="round" /><path d="M2031.0 469.1 2020.9 482.2 1998.8 495.3 1990.7 493.3" fill="none" stroke="#9a8bff" stroke-width="1.5" stroke-linejoin="round" /><path d="M2031.0 498.3 2024.9 504.4 2023.9 512.4 1998.8 520.5 1988.7 526.5 1980.6 520.5 1972.6 526.5 1963.5 527.5 1961.5 536.6 1964.5 548.7 1963.5 562.8 1957.5 568.8 1956.5 578.9" fill="none" stroke="#9a8bff" stroke-width="1.5" stroke-linejoin="round" /><path d="M1980.6 520.5 1973.6 514.4 1968.6 516.4 1969.6 523.5" fill="none" stroke="#9a8bff" stroke-width="1.5" stroke-linejoin="round" /><path d="M1989.7 500.3 1988.7 507.4 1977.6 509.4 1973.6 514.4" fill="none" stroke="#9a8bff" stroke-width="1.5" stroke-linejoin="round" /><path d="M1963.5 562.8 1972.6 559.7 1989.7 561.7 2000.8 566.8 2002.8 572.8 1996.8 588.9 1986.7 613.1 1979.6 629.2 1991.7 635.2 1994.7 640.3" fill="none" stroke="#9a8bff" stroke-width="1.5" stroke-linejoin="round" /><path d="M2019.9 610.1 2026.0 619.1 2031.0 623.2" fill="none" stroke="#9a8bff" stroke-width="1.5" stroke-linejoin="round" /><path d="M2008.8 656.4 2017.9 657.4 2018.9 670.5 2027.0 682.0" fill="none" stroke="#9a8bff" stroke-width="1.5" stroke-linejoin="round" /><path d="M1750.1 476.2 1761.2 468.1 1769.2 460.1" fill="none" stroke="#9a8bff" stroke-width="1.5" stroke-linejoin="round" /><path d="M1739.0 456.0 1744.0 464.1 1741.0 482.2 1747.1 504.4 1745.0 518.5 1750.1 530.5 1745.0 542.6 1742.0 560.7 1739.0 564.8" fill="none" stroke="#9a8bff" stroke-width="2" stroke-linejoin="round" /><path d="M2026.0 458.0 2031.0 457.0 2031.0 469.1 2026.6 468.1z" fill="#9a8bff" /><path d="M1990.7 573.8 1995.7 574.8 1993.7 578.9z" fill="#9a8bff" /><path d="M1652.4 678.0 1670.5 678.0 1680.6 686.1 1688.6 698.1 1690.6 704.2 1687.6 716.3 1693.7 736.4 1710.8 719.3 1712.8 721.3 1695.7 742.4 1692.7 750.5 1693.7 762.6 1688.6 765.6 1682.6 758.5 1683.6 746.5 1688.6 742.4 1682.6 724.3 1680.6 702.2 1670.5 686.1 1658.4 682.0z" fill="#9a8bff" /><path d="M1631.2 706.2 1640.3 698.1 1650.4 690.1 1654.4 682.0 1658.4 686.1 1650.4 700.2 1649.4 718.3 1636.3 724.3 1632.2 730.4 1628.2 724.3 1632.2 716.3 1629.2 711.2z" fill="#9a8bff" opacity=".75"/><path d="M1469.1 874.3 1476.2 872.3 1477.2 881.4 1486.3 894.5 1475.2 908.0 1449.0 908.0 1449.0 891.5 1457.1 899.5 1468.1 895.5 1469.1 883.4z" fill="#9a8bff" /><path d="M1622.2 752.9 1626.2 751.7 1625.4 755.3z" fill="#9a8bff" /><path d="M1648.4 750.9 1653.4 751.7 1650.8 754.9z" fill="#9a8bff" /><path d="M1688.6 765.6 1688.6 772.6 1685.6 778.7 1689.6 782.7 1692.7 780.7 1693.7 794.8 1687.6 804.9 1696.7 810.9 1700.7 819.0 1710.8 827.0 1709.8 833.1 1706.8 835.1 1709.8 840.1" fill="none" stroke="#ffd41c" stroke-width="2.5" stroke-linejoin="round" /><path d="M1709.8 840.1 1700.7 853.2 1696.7 867.3 1697.7 877.4 1702.7 879.4 1700.7 895.5 1704.7 903.5 1705.7 908.0" fill="none" stroke="#e2984a" stroke-width="2.2" stroke-linejoin="round" /><path d="M1697.7 876.3 1693.7 893.5 1701.7 899.5" fill="none" stroke="#e2984a" stroke-width="2" stroke-linejoin="round" /><path d="M1457.1 696.1 1468.1 694.1 1477.2 698.1 1478.2 708.2 1473.2 716.3 1464.1 713.2 1458.1 704.2z" fill="#d9f4ff" stroke="#3db8ff" stroke-width="1.4"/><path d="M1502.4 688.1 1507.4 682.0 1514.4 679.0 1513.4 690.1 1507.4 698.1 1503.4 704.2 1501.4 696.1z" fill="#d9f4ff" stroke="#3db8ff" stroke-width="1.4"/><path d="M1464.1 678.0 1468.1 682.0 1465.1 690.1" fill="none" stroke="#3db8ff" stroke-width="1.6" stroke-linejoin="round" /><path d="M1449.0 721.3 1459.1 721.3 1460.1 713.2" fill="none" stroke="#3db8ff" stroke-width="1.6" stroke-linejoin="round" /><path d="M1473.2 716.3 1472.2 727.3 1480.2 753.5 1484.2 768.6 1484.2 778.7 1492.3 783.7 1501.4 790.8 1509.4 796.8 1515.5 788.4 1527.5 789.8 1531.6 795.8 1536.6 796.8 1537.6 805.9 1540.6 807.9" fill="none" stroke="#3db8ff" stroke-width="1.6" stroke-linejoin="round" /><path d="M1470.1 768.6 1477.2 778.7 1484.2 779.7" fill="none" stroke="#3db8ff" stroke-width="1.6" stroke-linejoin="round" /><path d="M1480.2 753.5 1481.2 768.6 1484.2 768.6" fill="none" stroke="#3db8ff" stroke-width="1.6" stroke-linejoin="round" /><path d="M1503.4 704.2 1509.4 698.1 1506.4 712.2 1509.4 725.3 1521.5 725.3 1529.5 720.3 1537.6 728.3 1543.6 729.3" fill="none" stroke="#3db8ff" stroke-width="1.6" stroke-linejoin="round" /><path d="M1551.7 678.0 1554.7 686.1 1552.7 698.1 1546.7 712.2 1543.6 728.3 1545.7 738.4 1542.6 750.5 1538.6 752.5 1539.6 762.6 1537.6 770.6 1543.6 769.6 1548.7 784.7 1546.7 792.8 1549.7 794.8 1545.7 804.9 1540.6 807.9" fill="none" stroke="#3db8ff" stroke-width="1.6" stroke-linejoin="round" /><path d="M1566.8 680.0 1565.8 688.1 1554.7 693.1" fill="none" stroke="#3db8ff" stroke-width="1.6" stroke-linejoin="round" /><path d="M1586.9 678.0 1581.9 690.1 1578.9 699.1 1567.8 704.2 1557.7 713.2 1554.7 724.3 1551.7 738.4 1543.6 744.5" fill="none" stroke="#3db8ff" stroke-width="1.6" stroke-linejoin="round" /><path d="M1540.6 807.9 1549.7 806.9 1559.8 790.8 1577.9 790.8 1587.9 793.8 1591.0 776.7 1593.0 793.8 1590.0 796.8 1595.0 803.9 1600.0 804.9 1602.0 810.9 1601.0 818.0" fill="none" stroke="#3db8ff" stroke-width="1.6" stroke-linejoin="round" /><path d="M1543.6 827.0 1547.7 825.0 1544.7 833.1" fill="none" stroke="#3db8ff" stroke-width="1.6" stroke-linejoin="round" /><path d="M1462.1 814.9 1457.1 819.0 1454.0 828.0 1451.0 828.0 1453.0 833.1 1449.0 835.1" fill="none" stroke="#3db8ff" stroke-width="1.6" stroke-linejoin="round" /><path d="M1560.8 758.5 1563.8 756.1 1564.8 760.6 1560.8 758.5" fill="none" stroke="#3db8ff" stroke-width="1.6" stroke-linejoin="round" /><path d="M1673.5 765.6 1680.6 765.6 1679.6 770.6 1673.5 769.6 1673.5 765.6" fill="none" stroke="#3db8ff" stroke-width="1.6" stroke-linejoin="round" /><path d="M1504.4 876.3 1506.4 881.4" fill="none" stroke="#3db8ff" stroke-width="1.6" stroke-linejoin="round" /><path d="M1518.5 882.4 1527.5 899.5" fill="none" stroke="#3db8ff" stroke-width="1.6" stroke-linejoin="round" /><path d="M1578.9 781.7 1581.9 779.7 1581.5 783.1" fill="none" stroke="#3db8ff" stroke-width="1.6" stroke-linejoin="round" /><path d="M1540.6 807.9 1539.6 819.0 1542.6 855.2 1543.6 865.3 1544.7 879.4 1541.6 891.5 1543.6 899.5 1541.6 908.0" fill="none" stroke="#1a7bff" stroke-width="2" stroke-linejoin="round" /><path d="M1542.6 849.2 1535.6 849.2 1534.6 853.2 1537.6 857.2 1542.6 858.2" fill="none" stroke="#1a7bff" stroke-width="1.8" stroke-linejoin="round" /><path d="M1546.7 879.4 1549.7 883.4 1550.7 897.5 1553.7 908.0" fill="none" stroke="#1a7bff" stroke-width="1.8" stroke-linejoin="round" /><path d="M1745.0 790.8 1755.1 790.8 1754.1 802.8 1747.1 800.8z" fill="url(#hat)" /><path d="M1772.2 839.1 1788.3 847.2 1786.3 855.2 1776.3 858.2z" fill="url(#hat)" /><path d="M1771.2 678.0 1769.2 686.1 1773.2 694.1 1782.3 698.1 1794.4 696.1 1803.4 704.2 1805.5 713.2 1797.4 723.3 1786.3 721.3 1780.3 727.3 1786.3 731.4 1782.3 737.4 1773.2 738.4 1763.2 748.5 1758.1 762.6 1756.1 778.7 1757.1 787.7 1745.0 792.8 1746.0 800.8 1754.1 810.9 1748.1 821.0 1752.1 830.0 1761.2 834.1" fill="none" stroke="#e2984a" stroke-width="3.4" stroke-linejoin="round" /><path d="M1758.1 832.0 1765.2 833.1 1772.2 841.1 1775.2 859.2 1778.3 863.3 1773.2 872.3 1765.2 881.4 1758.1 899.5 1756.1 908.0 1745.0 908.0 1755.1 883.4 1757.1 871.3 1762.2 855.2 1761.2 841.1z" fill="#e8a93c" /><path d="M1786.3 800.8 1779.3 819.0 1772.2 833.1" fill="none" stroke="#e2984a" stroke-width="1.6" stroke-linejoin="round" /><path d="M1787.3 772.6 1782.3 780.7 1774.2 782.7 1775.2 790.8 1769.2 787.7 1775.2 798.8 1779.3 806.9" fill="none" stroke="#e2984a" stroke-width="1.6" stroke-linejoin="round" /><path d="M1789.3 847.2 1783.3 857.2 1778.3 863.3" fill="none" stroke="#e2984a" stroke-width="1.6" stroke-linejoin="round" /><path d="M1850.8 695.1 1839.7 708.2 1819.5 724.3 1816.5 736.4 1807.5 755.5" fill="none" stroke="#3db8ff" stroke-width="1.6" stroke-linejoin="round" /><path d="M1875.9 704.2 1859.8 717.3 1846.7 716.3 1841.7 722.3 1837.7 733.4" fill="none" stroke="#3db8ff" stroke-width="1.6" stroke-linejoin="round" /><path d="M1851.8 732.4 1857.8 735.4 1860.8 744.5 1855.8 758.5 1858.8 765.6 1866.9 760.6" fill="none" stroke="#3db8ff" stroke-width="1.6" stroke-linejoin="round" /><path d="M1882.0 678.0 1888.0 684.0 1889.0 695.1 1899.1 707.2 1910.2 709.2 1917.2 708.2 1928.3 698.1 1936.3 685.0 1948.4 687.1 1962.5 684.0" fill="none" stroke="#3db8ff" stroke-width="1.6" stroke-linejoin="round" /><path d="M1910.2 709.2 1920.2 720.3 1930.3 726.3 1937.3 726.3 1943.4 733.4 1945.4 740.4" fill="none" stroke="#3db8ff" stroke-width="1.6" stroke-linejoin="round" /><path d="M1900.1 708.2 1897.1 717.3" fill="none" stroke="#3db8ff" stroke-width="1.6" stroke-linejoin="round" /><path d="M1891.0 779.7 1873.9 802.8 1872.9 816.9 1867.9 827.0 1872.9 839.1 1870.9 850.2 1876.9 856.2 1884.0 862.3 1887.0 843.1 1889.0 837.1 1906.1 827.0 1908.2 824.0 1922.2 819.0 1928.3 823.0 1941.4 822.0 1947.4 827.0 1938.4 834.1 1937.3 847.2 1934.3 857.2" fill="none" stroke="#3db8ff" stroke-width="1.6" stroke-linejoin="round" /><path d="M1789.3 845.1 1799.4 850.2 1804.4 862.3 1812.5 866.3 1814.5 872.3 1818.5 873.3 1816.5 881.4" fill="none" stroke="#3db8ff" stroke-width="1.6" stroke-linejoin="round" /><path d="M1833.6 879.4 1833.6 898.5" fill="none" stroke="#3db8ff" stroke-width="1.6" stroke-linejoin="round" /><path d="M1910.2 808.9 1916.2 807.9 1920.2 810.9 1917.2 813.9 1912.2 811.9 1910.2 808.9" fill="none" stroke="#3db8ff" stroke-width="1.6" stroke-linejoin="round" /><path d="M2010.8 908.0 2029.0 901.5" fill="none" stroke="#3db8ff" stroke-width="1.6" stroke-linejoin="round" /><path d="M1949.4 693.1 1951.4 694.1 1950.8 702.2 1948.8 701.8 1949.4 693.1" fill="none" stroke="#3db8ff" stroke-width="1.6" stroke-linejoin="round" /><path d="M2004.8 863.3 2008.8 862.3 2009.8 866.9 2005.2 866.5 2004.8 863.3" fill="none" stroke="#3db8ff" stroke-width="1.6" stroke-linejoin="round" /><path d="M1928.3 678.0 1927.3 686.1" fill="none" stroke="#3db8ff" stroke-width="1.6" stroke-linejoin="round" /><path d="M1784.3 787.7 1788.3 786.7" fill="none" stroke="#3db8ff" stroke-width="1.6" stroke-linejoin="round" /><path d="M1787.3 762.6 1794.4 760.6 1790.3 769.6" fill="none" stroke="#3db8ff" stroke-width="1.6" stroke-linejoin="round" /><path d="M1963.5 858.2 1973.6 857.2 1975.6 860.2 1970.6 865.3 1964.5 863.3z" fill="#d9f4ff" stroke="#3db8ff" stroke-width="1.4"/><path d="M1846.7 900.5 1859.8 897.5 1862.8 908.0 1845.7 908.0z" fill="#d9f4ff" /><path d="M1797.4 762.6 1807.5 755.5 1813.5 754.5 1831.6 746.5 1831.6 741.4 1833.6 738.4" fill="none" stroke="#ffd41c" stroke-width="1.6" stroke-linejoin="round" /><path d="M1917.2 865.3 1923.3 862.3 1922.2 879.4 1919.2 899.5 1917.2 908.0 1903.1 908.0 1908.2 889.4 1912.2 871.3z" fill="#9a8bff" /><path d="M1989.7 740.4 1992.7 741.4 1991.7 754.5 1988.7 752.5z" fill="#9a8bff" /><path d="M1958.5 708.2 1959.5 717.3 1964.5 726.3 1963.5 738.4 1970.6 748.5 1979.6 754.5 1985.7 762.6 1990.7 776.7 1986.7 782.7 1982.7 770.6 1973.6 769.6" fill="none" stroke="#9a8bff" stroke-width="1.5" stroke-linejoin="round" /><path d="M2009.8 682.0 2002.8 692.1 2003.8 703.2 2007.8 708.2 2008.8 716.3 2000.8 726.3 1998.8 736.4 1990.7 741.4" fill="none" stroke="#9a8bff" stroke-width="1.5" stroke-linejoin="round" /><path d="M1989.7 754.5 1987.7 762.6 1985.7 762.6" fill="none" stroke="#9a8bff" stroke-width="1.5" stroke-linejoin="round" /><path d="M2024.9 678.0 2018.9 686.1 2012.9 693.1 2010.8 708.2 2008.8 716.3" fill="none" stroke="#9a8bff" stroke-width="1.5" stroke-linejoin="round" /><path d="M2000.8 726.3 2012.9 725.3 2019.9 723.3 2031.0 722.3" fill="none" stroke="#9a8bff" stroke-width="1.5" stroke-linejoin="round" /><path d="M2012.9 725.3 2016.9 733.4" fill="none" stroke="#9a8bff" stroke-width="1.5" stroke-linejoin="round" /><path d="M2019.9 723.3 2027.0 730.4" fill="none" stroke="#9a8bff" stroke-width="1.5" stroke-linejoin="round" /><path d="M2031.0 792.8 2020.9 794.8 2004.8 806.9 1992.7 818.0 1977.6 818.0 1976.6 814.9 1984.7 808.9 1985.7 800.8" fill="none" stroke="#9a8bff" stroke-width="1.5" stroke-linejoin="round" /><path d="M1911.2 764.6 1915.2 766.6" fill="none" stroke="#9a8bff" stroke-width="1.5" stroke-linejoin="round" /><path d="M1923.3 764.6 1929.3 762.6 1935.3 766.6 1940.4 773.7 1941.4 778.7" fill="none" stroke="#9a8bff" stroke-width="1.5" stroke-linejoin="round" /><path d="M1953.5 896.5 1944.4 898.5 1938.4 908.0" fill="none" stroke="#9a8bff" stroke-width="1.5" stroke-linejoin="round" /><path d="M1935.9 765.8 1940.4 765.8 1939.6 769.0 1936.3 768.2z" fill="#9a8bff" /></svg></div><div class="t" style="left:1946.7px;top:269.0px;font-size:13.4px;color:#6a6a6a;transform:scaleX(0.9732);text-shadow:0 0 2px #f4eddd,0 0 2px #f4eddd">Wallingford</div><div class="t" style="left:1817.0px;top:525.0px;font-size:13.4px;color:#6a6a6a;transform:scaleX(0.9711);text-shadow:0 0 2px #f4eddd,0 0 2px #f4eddd">North Haven</div><div class="t" style="left:1692.4px;top:561.0px;font-size:13.4px;color:#6a6a6a;transform:scaleX(0.9839);text-shadow:0 0 2px #f4eddd,0 0 2px #f4eddd">Hamden</div><div class="b" style="left:1054.0px;top:176.0px;width:2048.0px;height:51.6px;background:#292929;"></div><div class="b" style="left:1054.0px;top:227.0px;width:2048.0px;height:1.2px;background:#1b1b1b;"></div><svg width="2048" height="1142"><g transform="translate(1014,-2)"><path d="M58.8 193.8h7v21.2l-8.5 4.4-2.6-2.9 4.1-2.3z" fill="#1c9140"/><path d="M60.2 207.2h3.6v1.6h-2v4.4h2v1.6h-3.6z" fill="#1a3a22"/><path d="M66.4 193.4h7.4v3.1h-4.4v6h3.9v3h-3.9v6.8h4.4v3.1h-7.4z" fill="#0b4db1"/><path d="M75.2 196.6a3.2 3.2 0 0 1 3.2-3.2h1a3.2 3.2 0 0 1 3.2 3.2v3.4h-2.9v-3.2a.8.8 0 0 0-1.6 0v15.2a.8.8 0 0 0 1.6 0v-3.6h2.9v3.8a3.2 3.2 0 0 1-3.2 3.2h-1a3.2 3.2 0 0 1-3.2-3.2z" fill="#0b4db1"/><path fill-rule="evenodd" d="M83.4 196.6a3.2 3.2 0 0 1 3.2-3.2h1a3.2 3.2 0 0 1 3.2 3.2v15.6a3.2 3.2 0 0 1-3.2 3.2h-1a3.2 3.2 0 0 1-3.2-3.2zM86.3 196.8v15.2a.8.8 0 0 0 1.6 0v-15.2a.8.8 0 0 0-1.6 0z" fill="#0b4db1"/><circle cx="117.8" cy="204.9" r="14.2" fill="#000"/><clipPath id="ccR"><circle cx="117.8" cy="204.9" r="14.2"/></clipPath><g clip-path="url(#ccR)"><path d="M124 192.5c-9 2-15.5 9-14.5 27l16 2 4-10z" fill="#46c3ea"/><path d="M124.6 193.2c-9 5-9 17 0 23.6 9-5 9-18 0-23.6z" fill="#00896b"/><path d="M124.6 193.2c-9 5-9 17 0 23.6" fill="none" stroke="#bfe9f5" stroke-width=".6"/></g><circle cx="117.8" cy="204.9" r="14.6" fill="none" stroke="#d8d8d8" stroke-width="1.3"/><path d="M62 242.6l2.6 4.6h-5.2z" fill="#fff"/><rect x="59.6" y="252.4" width="4.8" height="4.8" fill="#fff"/><circle cx="62" cy="264.4" r="2.5" fill="#fff"/><rect x="66.4" y="244.2" width="18.2" height="2" fill="#fff"/><rect x="66.4" y="253.8" width="18.2" height="2" fill="#fff"/><rect x="66.4" y="263.4" width="18.2" height="2" fill="#fff"/><path d="M149.4 242.2l12.2 7.1-12.2 7.1-12.2-7.1z" fill="#fff"/><path d="M139.6 253.2l9.8 5.7 9.8-5.7 2.4 1.4-12.2 7.2-12.2-7.2z" fill="#fff"/><path d="M139.6 258.5l9.8 5.7 9.8-5.7 2.4 1.4-12.2 7.2-12.2-7.2z" fill="#fff"/><rect x="214.2" y="242.6" width="10.5" height="10.3" fill="#fff"/><rect x="214.2" y="256.6" width="10.5" height="10.3" fill="#fff"/><rect x="228.6" y="242.6" width="10.5" height="10.3" fill="#fff"/><rect x="228.6" y="256.6" width="10.5" height="10.3" fill="#fff"/><path d="M295.8 246.6h17.2l2.8 19.4c-4-1.6-7.4-1.6-11.2-.2s-7.6 1.8-11.6.2z" fill="#fff"/><path d="M302.8 242.3h2.8v5.8h3.7v2.9h-3.7v3.2h-2.8v-3.2h-4.2v-2.9h4.2z" fill="#fff" stroke="#292929" stroke-width="2" paint-order="stroke"/><rect x="302.8" y="242.3" width="2.8" height="5" fill="#fff"/><rect x="369.4" y="242.6" width="23.4" height="3.5" fill="#fff"/><rect x="369.4" y="252.1" width="23.4" height="3.5" fill="#fff"/><path d="M369.4 262.3h19.2l-3.2 3.5h-16z" fill="#fff"/><path d="M393.8 257.9v8.8h-7.8z" fill="#fff"/></g></svg><div class="t" style="left:1150.4px;top:191.0px;font-size:21.8px;color:#fff;font-weight:700;transform:scaleX(0.7233);">CLEAR</div><div class="t" style="left:1229.5px;top:187.0px;font-size:33.8px;color:#fff;transform:scaleX(1.0729);">Connecticut MS4 Data</div><div class="t" style="left:1619.8px;top:197.0px;font-size:13.7px;color:#cfcfcf;transform:scaleX(0.9634);">Part of the NEMO MS4 program funded by CT DEEP</div><div class="t" style="left:1964.2px;top:197.0px;font-size:13.7px;color:#cfcfcf;transform:scaleX(0.8935);">CT MS4 Guidance</div><div class="b" style="left:1054.0px;top:275.7px;width:395.4px;height:21.3px;background:#554833;"></div><div class="b" style="left:1056.0px;top:296.8px;width:392.4px;height:580.4px;background:#292929;box-shadow:0 0 0 1px #9a9a9a inset"></div><div class="b" style="left:1057.3px;top:319.0px;width:390.0px;height:557.0px;background:#fff;border-radius:0 4px 3px 3px"></div><svg width="2048" height="1142"><g transform="translate(1014,-2)"><path d="M43.3 322v-17.4a3.6 3.6 0 0 1 3.6-3.6h80.4a5 5 0 0 1 3.8 1.8l17 19.2z" fill="#fff"/></g></svg><div class="t" style="left:1071.6px;top:306.0px;font-size:12.6px;color:#292929;transform:scaleX(1.0183);">Layer List</div><svg width="2048" height="1142"><g transform="translate(1014,-2)"><path d="M401.6 892.6l5.4-4.2v8.4zM408.2 892.6l5.4-4.2v8.4z" fill="#e6e6e6"/></g></svg><svg width="2048" height="1142"><path d="M1078.6000000000001 347.7h7l-3.5 4.6z" fill="#9a9a9a"/></svg><div class="b" style="left:1089.4px;top:339.9px;width:17.0px;height:17.8px;background:#24b5cc;border-radius:2.5px"></div><svg width="2048" height="1142"><path d="M1092.8000000000002 347.90000000000003l4.2 3.8 6.2-6.6" fill="none" stroke="#fff" stroke-width="2.3"/></svg><div class="t" style="left:1115.4px;top:343.0px;font-size:13.9px;color:#2b2b2b;transform:scaleX(0.9388);">Surface Water Quality Classifications (Line)</div><svg width="2048" height="1142"><circle cx="1413.8" cy="355.3" r="2.1" fill="#6a6a6a"/><circle cx="1420.3" cy="355.3" r="2.1" fill="#6a6a6a"/><circle cx="1426.8" cy="355.3" r="2.1" fill="#6a6a6a"/></svg><div class="b" style="left:1087.6px;top:390.9px;width:32.5px;height:1.6px;background:#37b5ff;"></div><div class="t" style="left:1125.4px;top:386.0px;font-size:13.6px;color:#2b2b2b;transform:scaleX(0.9485);">A</div><div class="b" style="left:1087.6px;top:423.4px;width:32.5px;height:1.6px;background:#9a86ff;"></div><div class="t" style="left:1125.4px;top:418.0px;font-size:13.6px;color:#2b2b2b;transform:scaleX(0.9871);">AA</div><div class="b" style="left:1087.6px;top:455.6px;width:32.5px;height:1.6px;background:#ffd500;"></div><div class="t" style="left:1125.8px;top:450.0px;font-size:13.6px;color:#2b2b2b;transform:scaleX(0.9168);">B, B*</div><div class="b" style="left:1087.6px;top:488.3px;width:32.5px;height:1.6px;background:#2a8bff;"></div><div class="t" style="left:1125.8px;top:483.0px;font-size:13.6px;color:#2b2b2b;transform:scaleX(0.8437);">SA</div><div class="b" style="left:1087.6px;top:520.7px;width:32.5px;height:1.6px;background:#f59a23;"></div><div class="t" style="left:1125.8px;top:515.0px;font-size:13.6px;color:#2b2b2b;transform:scaleX(0.8162);">SB</div><div class="b" style="left:1073.0px;top:538.2px;width:359.0px;height:42.4px;background:#d9dde1;"></div><svg width="2048" height="1142"><path d="M1079.0 558.1999999999999h7l-3.5 4.6z" fill="#9a9a9a"/></svg><div class="b" style="left:1089.8px;top:550.4px;width:17.0px;height:17.8px;background:#24b5cc;border-radius:2.5px"></div><svg width="2048" height="1142"><path d="M1093.2 558.4l4.2 3.8 6.2-6.6" fill="none" stroke="#fff" stroke-width="2.3"/></svg><div class="t" style="left:1115.8px;top:554.0px;font-size:13.9px;color:#2b2b2b;transform:scaleX(0.9379);">Surface Water Quality Classifications (Polygon)</div><svg width="2048" height="1142"><circle cx="1413.6000000000001" cy="565.4" r="2.1" fill="#6a6a6a"/><circle cx="1420.1000000000001" cy="565.4" r="2.1" fill="#6a6a6a"/><circle cx="1426.6000000000001" cy="565.4" r="2.1" fill="#6a6a6a"/></svg><svg width="2048" height="1142"><path d="M1093.6 592l21.6 9.4v11.2h-21.6z" fill="#dff7ff"/></svg><div class="t" style="left:1125.8px;top:596.0px;font-size:13.6px;color:#2b2b2b;transform:scaleX(0.9485);">A</div><svg width="2048" height="1142"><path d="M1093.6 624l21.6 9.4v11.2h-21.6z" fill="#9a86ff"/></svg><div class="t" style="left:1125.8px;top:629.0px;font-size:13.6px;color:#2b2b2b;transform:scaleX(0.9871);">AA</div><svg width="2048" height="1142"><path d="M1093.6 656.8l21.6 9.4v11.2h-21.6z" fill="#ffe566"/></svg><div class="t" style="left:1125.8px;top:661.0px;font-size:13.6px;color:#2b2b2b;transform:scaleX(0.9168);">B, B*</div><svg width="2048" height="1142"><path d="M1093.6 688.8l21.6 9.4v11.2h-21.6z" fill="#b3f4ff"/></svg><div class="t" style="left:1125.8px;top:693.0px;font-size:13.6px;color:#2b2b2b;transform:scaleX(0.8437);">SA</div><svg width="2048" height="1142"><path d="M1093.6 721.4l21.6 9.4v11.2h-21.6z" fill="#e9ab3b"/></svg><div class="t" style="left:1125.8px;top:725.0px;font-size:13.6px;color:#2b2b2b;transform:scaleX(0.8162);">SB</div><svg width="2048" height="1142"><path d="M1080.3 766.8l4.6 4.2-4.6 4.2z" fill="#9a9a9a"/></svg><div class="b" style="left:1089.8px;top:760.6px;width:17.0px;height:17.8px;background:#24b5cc;border-radius:2.5px"></div><svg width="2048" height="1142"><path d="M1093.2 768.6l4.2 3.8 6.2-6.6" fill="none" stroke="#fff" stroke-width="2.3"/></svg><div class="t" style="left:1115.8px;top:764.0px;font-size:13.9px;color:#2b2b2b;transform:scaleX(0.9154);">CT MS4 Towns</div><svg width="2048" height="1142"><circle cx="1413.6000000000001" cy="775.6" r="2.1" fill="#6a6a6a"/><circle cx="1420.1000000000001" cy="775.6" r="2.1" fill="#6a6a6a"/><circle cx="1426.6000000000001" cy="775.6" r="2.1" fill="#6a6a6a"/></svg><svg width="2048" height="1142"><path d="M1080.3 809.8l4.6 4.2-4.6 4.2z" fill="#9a9a9a"/></svg><div class="b" style="left:1089.8px;top:803.6px;width:17.0px;height:17.8px;background:#fff;border-radius:2.5px;box-shadow:0 0 0 1px #b4b4b4 inset"></div><div class="t" style="left:1115.8px;top:807.0px;font-size:13.9px;color:#2b2b2b;transform:scaleX(0.9316);">DEEP - Aquifer Protection Areas</div><svg width="2048" height="1142"><circle cx="1413.6000000000001" cy="818.6" r="2.1" fill="#6a6a6a"/><circle cx="1420.1000000000001" cy="818.6" r="2.1" fill="#6a6a6a"/><circle cx="1426.6000000000001" cy="818.6" r="2.1" fill="#6a6a6a"/></svg><svg width="2048" height="1142"><path d="M1080.3 852.4l4.6 4.2-4.6 4.2z" fill="#9a9a9a"/></svg><div class="b" style="left:1089.8px;top:846.2px;width:17.0px;height:17.8px;background:#fff;border-radius:2.5px;box-shadow:0 0 0 1px #b4b4b4 inset"></div><div class="t" style="left:1115.8px;top:850.0px;font-size:13.9px;color:#2b2b2b;transform:scaleX(0.9425);">Natural Diversity Database Area</div><svg width="2048" height="1142"><circle cx="1413.6000000000001" cy="861.2" r="2.1" fill="#6a6a6a"/><circle cx="1420.1000000000001" cy="861.2" r="2.1" fill="#6a6a6a"/><circle cx="1426.6000000000001" cy="861.2" r="2.1" fill="#6a6a6a"/></svg><div class="b" style="left:1457.7px;top:233.9px;width:33.0px;height:64.0px;background:linear-gradient(#5a5a5a,#4a4a4a);border-radius:4.5px"></div><div class="b" style="left:1457.7px;top:309.4px;width:33.0px;height:32.6px;background:linear-gradient(#5a5a5a,#4a4a4a);border-radius:4.5px"></div><div class="b" style="left:1457.7px;top:346.1px;width:33.0px;height:32.8px;background:linear-gradient(#5a5a5a,#4a4a4a);border-radius:4.5px"></div><div class="b" style="left:1498.8px;top:233.3px;width:293.8px;height:35.5px;background:#fff;border-radius:4px;box-shadow:0 0 0 1px #8a8a8a inset"></div><div class="b" style="left:1756.8px;top:234.3px;width:1.2px;height:33.5px;background:#9a9a9a;"></div><svg width="2048" height="1142"><g transform="translate(1015.2,-1.5)"><path d="M450.8 250.6h7.2v-7.2h2.2v7.2h7.2v2.2h-7.2v7.2h-2.2v-7.2h-7.2z" fill="#fff"/><rect x="452.6" y="281.8" width="12.8" height="2.4" fill="#fff"/><path d="M459.3 316.8l6 5.9v-2.8h2.6v5.4l1.8 1.8v.6h-1.8v9.4h-6.3v-4.6h-4.9v4.6h-6.3v-9.4h-1.7v-.6z" fill="#f2f2f2"/><circle cx="459.3" cy="364.4" r="9.7" fill="none" stroke="#f0f0f0" stroke-width="1.6"/><path d="M459.3 355v3.6M459.3 370.2v3.6M449.9 364.4h3.6M465.1 364.4h3.6" stroke="#f0f0f0" stroke-width="1.4"/><circle cx="758.4" cy="250.6" r="5.2" fill="none" stroke="#4a4a4a" stroke-width="2"/><path d="M762.2 254.6l5.6 5.8" stroke="#4a4a4a" stroke-width="3" stroke-linecap="round"/></g></svg><div class="t" style="left:1513.1px;top:244.0px;font-size:15.4px;color:#9b9b9b;transform:scaleX(1.0034);">Find address or place</div><svg width="2048" height="1142"><path d="M1461.2 868v-5.4h120.6v5.4" fill="none" stroke="#fff" stroke-width="3.4" opacity=".7"/><path d="M1461.2 868v-5.4h120.6v5.4" fill="none" stroke="#3a3a3a" stroke-width="1.4"/></svg><div class="t" style="left:1574.0px;top:868.0px;font-size:12.6px;color:#444;transform:scaleX(1.0349);text-shadow:0 0 2px #fff,0 0 2px #fff">2mi</div><div class="t" style="left:1601.6px;top:881.0px;font-size:18.9px;color:#3c3c3c;transform:scaleX(0.8777);">New Haven</div><div class="b" style="left:1460.6px;top:884.2px;width:158.6px;height:17.6px;background:rgba(70,70,70,.72);"></div><div class="b" style="left:1477.6px;top:884.2px;width:1.0px;height:17.6px;background:rgba(170,170,170,.8);"></div><svg width="2048" height="1142"><path d="M1469.4 886.6v3.2M1469.4 895.8v3.2M1463 893h3.4M1472.6 893h3.4" stroke="#ddd" stroke-width="1.3"/><rect x="1468" y="891.6" width="2.8" height="2.8" fill="#ddd"/></svg><div class="t" style="left:1483.6px;top:887.0px;font-size:13.2px;color:#fff;transform:scaleX(0.9238);">-72.984 41.317 Degrees</div><div class="b" style="left:1621.2px;top:890.6px;width:64.6px;height:20.0px;background:#3d3d3d;border-radius:7px 7px 0 0;border:1.2px solid rgba(240,240,240,.8);border-bottom:0;margin:-1px 0 0 -1px"></div><svg width="2048" height="1142"><path d="M1646.4 901.8l6.8-6 6.8 6z" fill="#d9d9d9"/></svg><div class="b" style="left:1953.8px;top:886.7px;width:100.0px;height:16.4px;background:rgba(255,255,255,.85);"></div><div class="t" style="left:1957.4px;top:889.0px;font-size:13.6px;color:#333;transform:scaleX(0.9185);">Esri, HERE,</div><div class="b" style="left:1054.0px;top:908.0px;width:2048.0px;height:6.8px;background:#0c0c0c;"></div><div class="b" style="left:1054.0px;top:914.8px;width:2048.0px;height:20.0px;background:#2a2a2a;"></div><div class="b" style="left:1643.0px;top:911.2px;width:21.0px;height:1.0px;background:#cfcfcf;"></div><div class="t" style="left:1600.9px;top:915.0px;font-size:12.6px;color:#484848;transform:scaleX(1.0478);">All rights reserved</div><div class="b" style="left:1477.8px;top:924.0px;width:406.0px;height:6.0px;background:#d2d2d2;"></div><div class="b" style="left:1054.0px;top:877.4px;width:395.4px;height:30.6px;background:#292929;"></div><svg width="2048" height="1142"><path d="M1416.6 895l5.4-4.2v8.4zM1423.2 895l5.4-4.2v8.4z" fill="#e6e6e6"/></svg></div></div>
<svg width="2048" height="1142"><ellipse cx="1129.4" cy="420.6" rx="80" ry="17.4" fill="none" stroke="#f2101a" stroke-width="1.7"/><ellipse cx="1147.8" cy="635.2" rx="80" ry="18.4" fill="none" stroke="#f2101a" stroke-width="1.7"/></svg>
</body></html>
